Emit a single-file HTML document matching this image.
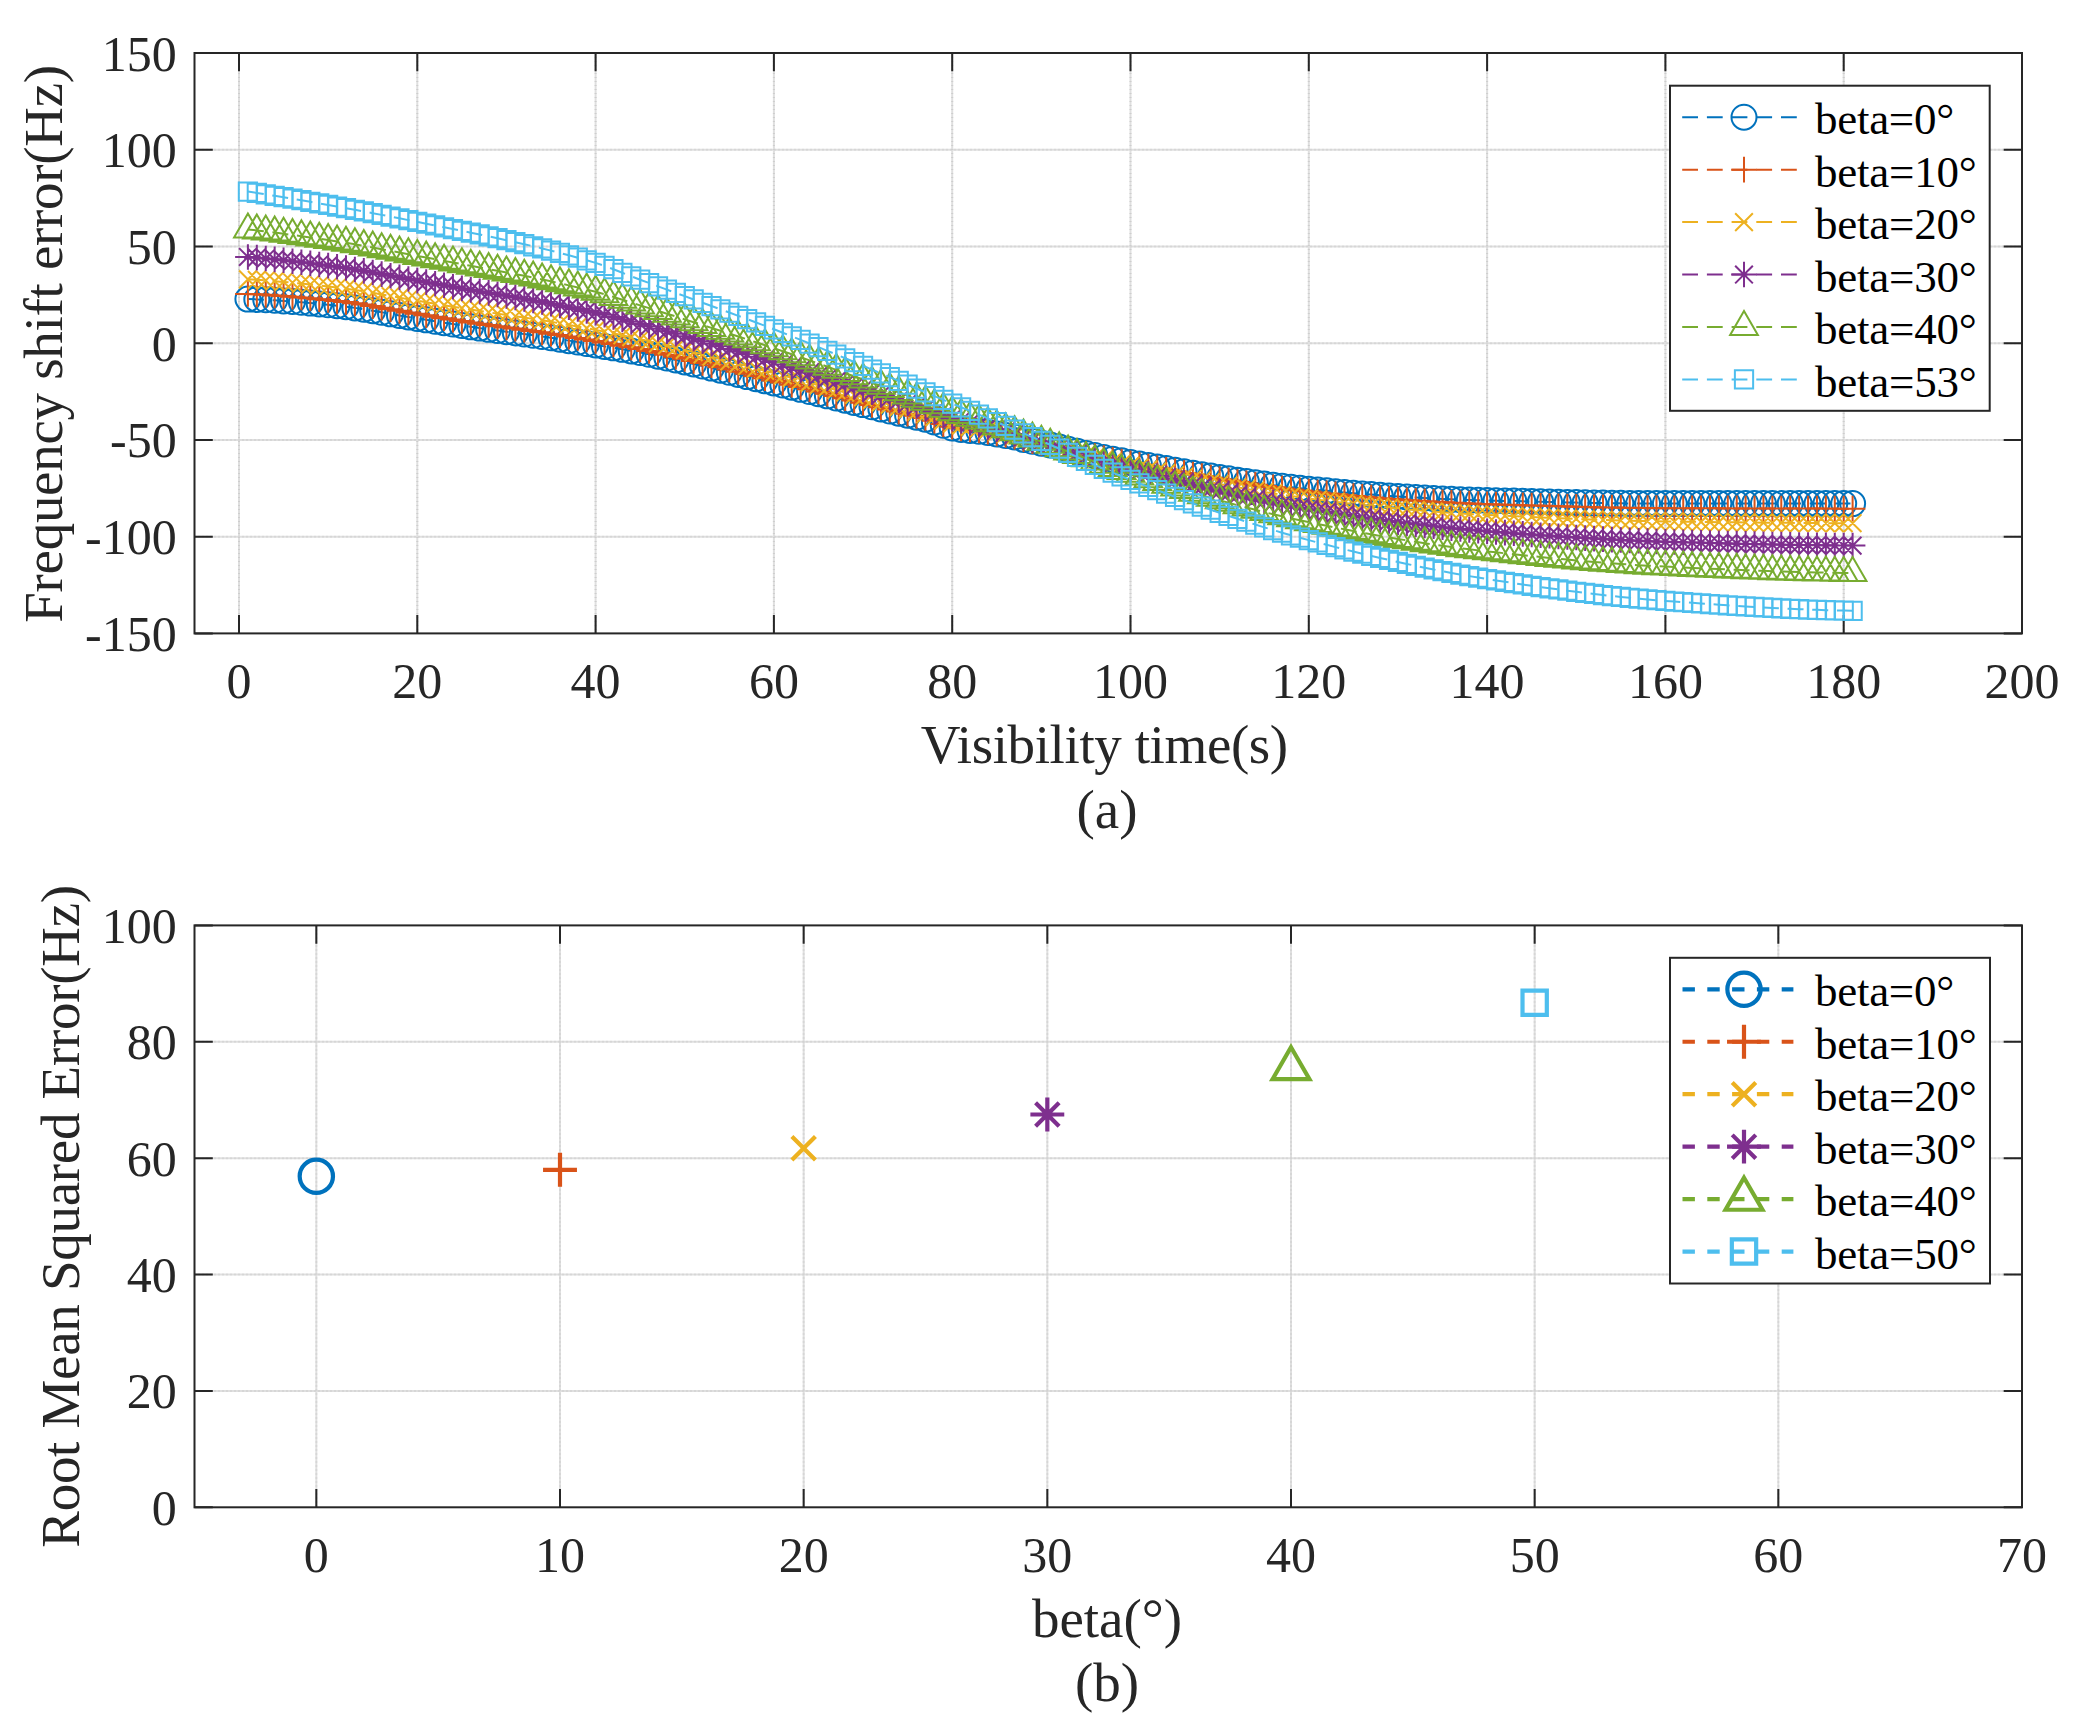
<!DOCTYPE html>
<html lang="en"><head><meta charset="utf-8"><title>Frequency shift error</title>
<style>html,body{margin:0;padding:0;background:#fff}svg{display:block}text{font-family:"Liberation Serif", serif}</style></head><body>
<svg width="2092" height="1730" viewBox="0 0 2092 1730">
<rect width="2092" height="1730" fill="#fff"/>
<path d="M239 53V633.4M417.3 53V633.4M595.6 53V633.4M773.9 53V633.4M952.2 53V633.4M1130.5 53V633.4M1308.8 53V633.4M1487.1 53V633.4M1665.4 53V633.4M1843.7 53V633.4M194.5 536.67H2022M194.5 439.93H2022M194.5 343.2H2022M194.5 246.47H2022M194.5 149.73H2022" stroke="#dfdfdf" stroke-width="2" fill="none"/>
<path d="M239 53V633.4M417.3 53V633.4M595.6 53V633.4M773.9 53V633.4M952.2 53V633.4M1130.5 53V633.4M1308.8 53V633.4M1487.1 53V633.4M1665.4 53V633.4M1843.7 53V633.4M194.5 536.67H2022M194.5 439.93H2022M194.5 343.2H2022M194.5 246.47H2022M194.5 149.73H2022" stroke="#cecece" stroke-width="2" stroke-dasharray="1 3" fill="none"/>
<path d="M239 633.4v-18.3M239 53v18.3M417.3 633.4v-18.3M417.3 53v18.3M595.6 633.4v-18.3M595.6 53v18.3M773.9 633.4v-18.3M773.9 53v18.3M952.2 633.4v-18.3M952.2 53v18.3M1130.5 633.4v-18.3M1130.5 53v18.3M1308.8 633.4v-18.3M1308.8 53v18.3M1487.1 633.4v-18.3M1487.1 53v18.3M1665.4 633.4v-18.3M1665.4 53v18.3M1843.7 633.4v-18.3M1843.7 53v18.3M2022 633.4v-18.3M2022 53v18.3M194.5 633.4h18.3M2022 633.4h-18.3M194.5 536.67h18.3M2022 536.67h-18.3M194.5 439.93h18.3M2022 439.93h-18.3M194.5 343.2h18.3M2022 343.2h-18.3M194.5 246.47h18.3M2022 246.47h-18.3M194.5 149.73h18.3M2022 149.73h-18.3M194.5 53h18.3M2022 53h-18.3" stroke="#262626" stroke-width="2" fill="none"/>
<rect x="194.5" y="53" width="1827.5" height="580.4" stroke="#262626" stroke-width="2" fill="none"/>
<polyline points="247.91,299.09 256.83,299.4 265.75,299.81 274.66,300.32 283.57,300.91 292.49,301.57 301.4,302.3 310.32,303.08 319.24,303.91 328.15,304.77 337.06,305.67 345.98,306.68 354.89,307.88 363.81,309.24 372.73,310.71 381.64,312.26 390.55,313.84 399.47,315.42 408.38,316.97 417.3,318.44 426.21,319.85 435.13,321.26 444.04,322.67 452.96,324.07 461.88,325.47 470.79,326.84 479.7,328.12 488.62,329.36 497.53,330.55 506.45,331.73 515.37,332.89 524.28,334.07 533.19,335.27 542.11,336.52 551.02,337.82 559.94,339.2 568.86,340.63 577.77,342.06 586.68,343.5 595.6,344.94 604.51,346.38 613.43,347.84 622.35,349.33 631.26,350.9 640.17,352.56 649.09,354.31 658,356.13 666.92,358.01 675.84,359.95 684.75,361.93 693.66,363.96 702.58,366.02 711.49,368.1 720.41,370.2 729.32,372.32 738.24,374.44 747.15,376.58 756.07,378.72 764.98,380.85 773.9,382.96 782.81,385.07 791.73,387.21 800.64,389.37 809.56,391.54 818.47,393.7 827.39,395.87 836.3,398.04 845.22,400.22 854.13,402.4 863.05,404.58 871.96,406.75 880.88,408.9 889.79,411.03 898.71,413.13 907.62,415.19 916.54,417.22 925.45,419.21 934.37,421.95 943.28,425.32 952.2,427.94 961.11,429.4 970.03,430.42 978.94,431.31 987.86,432.41 996.77,433.89 1005.69,435.42 1014.6,436.96 1023.52,439.39 1032.43,441.3 1041.35,443.13 1050.26,445.04 1059.18,447.07 1068.09,449.18 1077.01,451.33 1085.92,453.46 1094.84,455.54 1103.75,457.51 1112.67,459.25 1121.59,460.84 1130.5,462.38 1139.41,463.93 1148.33,465.49 1157.24,467.04 1166.16,468.59 1175.07,470.13 1183.99,471.65 1192.9,473.15 1201.82,474.63 1210.73,476.07 1219.65,477.49 1228.57,478.87 1237.48,480.21 1246.39,481.52 1255.31,482.77 1264.22,483.98 1273.14,485.14 1282.05,486.23 1290.97,487.27 1299.88,488.24 1308.8,489.13 1317.71,489.99 1326.63,490.84 1335.54,491.67 1344.46,492.46 1353.38,493.22 1362.29,493.94 1371.2,494.62 1380.12,495.27 1389.03,495.88 1397.95,496.46 1406.86,497.01 1415.78,497.53 1424.69,498.03 1433.61,498.49 1442.52,498.94 1451.44,499.34 1460.35,499.7 1469.27,500.01 1478.18,500.28 1487.1,500.5 1496.01,500.69 1504.93,500.89 1513.84,501.1 1522.76,501.32 1531.67,501.55 1540.59,501.78 1549.5,502 1558.42,502.21 1567.33,502.41 1576.25,502.6 1585.16,502.77 1594.08,502.93 1602.99,503.07 1611.91,503.2 1620.82,503.32 1629.74,503.41 1638.65,503.48 1647.57,503.54 1656.48,503.57 1665.4,503.58 1674.31,503.58 1683.23,503.58 1692.14,503.58 1701.06,503.58 1709.97,503.58 1718.89,503.58 1727.8,503.58 1736.72,503.58 1745.63,503.58 1754.55,503.58 1763.46,503.58 1772.38,503.58 1781.29,503.58 1790.21,503.58 1799.12,503.58 1808.04,503.58 1816.95,503.58 1825.87,503.58 1834.78,503.58 1843.7,503.58 1852.61,503.58" fill="none" stroke="#0072BD" stroke-width="2" stroke-dasharray="16 8.7"/>
<path d="M235.41 299.09a12.5 12.5 0 1 0 25 0a12.5 12.5 0 1 0 -25 0M244.33 299.4a12.5 12.5 0 1 0 25 0a12.5 12.5 0 1 0 -25 0M253.25 299.81a12.5 12.5 0 1 0 25 0a12.5 12.5 0 1 0 -25 0M262.16 300.32a12.5 12.5 0 1 0 25 0a12.5 12.5 0 1 0 -25 0M271.07 300.91a12.5 12.5 0 1 0 25 0a12.5 12.5 0 1 0 -25 0M279.99 301.57a12.5 12.5 0 1 0 25 0a12.5 12.5 0 1 0 -25 0M288.9 302.3a12.5 12.5 0 1 0 25 0a12.5 12.5 0 1 0 -25 0M297.82 303.08a12.5 12.5 0 1 0 25 0a12.5 12.5 0 1 0 -25 0M306.74 303.91a12.5 12.5 0 1 0 25 0a12.5 12.5 0 1 0 -25 0M315.65 304.77a12.5 12.5 0 1 0 25 0a12.5 12.5 0 1 0 -25 0M324.56 305.67a12.5 12.5 0 1 0 25 0a12.5 12.5 0 1 0 -25 0M333.48 306.68a12.5 12.5 0 1 0 25 0a12.5 12.5 0 1 0 -25 0M342.39 307.88a12.5 12.5 0 1 0 25 0a12.5 12.5 0 1 0 -25 0M351.31 309.24a12.5 12.5 0 1 0 25 0a12.5 12.5 0 1 0 -25 0M360.23 310.71a12.5 12.5 0 1 0 25 0a12.5 12.5 0 1 0 -25 0M369.14 312.26a12.5 12.5 0 1 0 25 0a12.5 12.5 0 1 0 -25 0M378.05 313.84a12.5 12.5 0 1 0 25 0a12.5 12.5 0 1 0 -25 0M386.97 315.42a12.5 12.5 0 1 0 25 0a12.5 12.5 0 1 0 -25 0M395.88 316.97a12.5 12.5 0 1 0 25 0a12.5 12.5 0 1 0 -25 0M404.8 318.44a12.5 12.5 0 1 0 25 0a12.5 12.5 0 1 0 -25 0M413.71 319.85a12.5 12.5 0 1 0 25 0a12.5 12.5 0 1 0 -25 0M422.63 321.26a12.5 12.5 0 1 0 25 0a12.5 12.5 0 1 0 -25 0M431.54 322.67a12.5 12.5 0 1 0 25 0a12.5 12.5 0 1 0 -25 0M440.46 324.07a12.5 12.5 0 1 0 25 0a12.5 12.5 0 1 0 -25 0M449.38 325.47a12.5 12.5 0 1 0 25 0a12.5 12.5 0 1 0 -25 0M458.29 326.84a12.5 12.5 0 1 0 25 0a12.5 12.5 0 1 0 -25 0M467.2 328.12a12.5 12.5 0 1 0 25 0a12.5 12.5 0 1 0 -25 0M476.12 329.36a12.5 12.5 0 1 0 25 0a12.5 12.5 0 1 0 -25 0M485.03 330.55a12.5 12.5 0 1 0 25 0a12.5 12.5 0 1 0 -25 0M493.95 331.73a12.5 12.5 0 1 0 25 0a12.5 12.5 0 1 0 -25 0M502.87 332.89a12.5 12.5 0 1 0 25 0a12.5 12.5 0 1 0 -25 0M511.78 334.07a12.5 12.5 0 1 0 25 0a12.5 12.5 0 1 0 -25 0M520.69 335.27a12.5 12.5 0 1 0 25 0a12.5 12.5 0 1 0 -25 0M529.61 336.52a12.5 12.5 0 1 0 25 0a12.5 12.5 0 1 0 -25 0M538.52 337.82a12.5 12.5 0 1 0 25 0a12.5 12.5 0 1 0 -25 0M547.44 339.2a12.5 12.5 0 1 0 25 0a12.5 12.5 0 1 0 -25 0M556.36 340.63a12.5 12.5 0 1 0 25 0a12.5 12.5 0 1 0 -25 0M565.27 342.06a12.5 12.5 0 1 0 25 0a12.5 12.5 0 1 0 -25 0M574.18 343.5a12.5 12.5 0 1 0 25 0a12.5 12.5 0 1 0 -25 0M583.1 344.94a12.5 12.5 0 1 0 25 0a12.5 12.5 0 1 0 -25 0M592.01 346.38a12.5 12.5 0 1 0 25 0a12.5 12.5 0 1 0 -25 0M600.93 347.84a12.5 12.5 0 1 0 25 0a12.5 12.5 0 1 0 -25 0M609.85 349.33a12.5 12.5 0 1 0 25 0a12.5 12.5 0 1 0 -25 0M618.76 350.9a12.5 12.5 0 1 0 25 0a12.5 12.5 0 1 0 -25 0M627.67 352.56a12.5 12.5 0 1 0 25 0a12.5 12.5 0 1 0 -25 0M636.59 354.31a12.5 12.5 0 1 0 25 0a12.5 12.5 0 1 0 -25 0M645.5 356.13a12.5 12.5 0 1 0 25 0a12.5 12.5 0 1 0 -25 0M654.42 358.01a12.5 12.5 0 1 0 25 0a12.5 12.5 0 1 0 -25 0M663.34 359.95a12.5 12.5 0 1 0 25 0a12.5 12.5 0 1 0 -25 0M672.25 361.93a12.5 12.5 0 1 0 25 0a12.5 12.5 0 1 0 -25 0M681.16 363.96a12.5 12.5 0 1 0 25 0a12.5 12.5 0 1 0 -25 0M690.08 366.02a12.5 12.5 0 1 0 25 0a12.5 12.5 0 1 0 -25 0M698.99 368.1a12.5 12.5 0 1 0 25 0a12.5 12.5 0 1 0 -25 0M707.91 370.2a12.5 12.5 0 1 0 25 0a12.5 12.5 0 1 0 -25 0M716.82 372.32a12.5 12.5 0 1 0 25 0a12.5 12.5 0 1 0 -25 0M725.74 374.44a12.5 12.5 0 1 0 25 0a12.5 12.5 0 1 0 -25 0M734.65 376.58a12.5 12.5 0 1 0 25 0a12.5 12.5 0 1 0 -25 0M743.57 378.72a12.5 12.5 0 1 0 25 0a12.5 12.5 0 1 0 -25 0M752.48 380.85a12.5 12.5 0 1 0 25 0a12.5 12.5 0 1 0 -25 0M761.4 382.96a12.5 12.5 0 1 0 25 0a12.5 12.5 0 1 0 -25 0M770.31 385.07a12.5 12.5 0 1 0 25 0a12.5 12.5 0 1 0 -25 0M779.23 387.21a12.5 12.5 0 1 0 25 0a12.5 12.5 0 1 0 -25 0M788.14 389.37a12.5 12.5 0 1 0 25 0a12.5 12.5 0 1 0 -25 0M797.06 391.54a12.5 12.5 0 1 0 25 0a12.5 12.5 0 1 0 -25 0M805.97 393.7a12.5 12.5 0 1 0 25 0a12.5 12.5 0 1 0 -25 0M814.89 395.87a12.5 12.5 0 1 0 25 0a12.5 12.5 0 1 0 -25 0M823.8 398.04a12.5 12.5 0 1 0 25 0a12.5 12.5 0 1 0 -25 0M832.72 400.22a12.5 12.5 0 1 0 25 0a12.5 12.5 0 1 0 -25 0M841.63 402.4a12.5 12.5 0 1 0 25 0a12.5 12.5 0 1 0 -25 0M850.55 404.58a12.5 12.5 0 1 0 25 0a12.5 12.5 0 1 0 -25 0M859.46 406.75a12.5 12.5 0 1 0 25 0a12.5 12.5 0 1 0 -25 0M868.38 408.9a12.5 12.5 0 1 0 25 0a12.5 12.5 0 1 0 -25 0M877.29 411.03a12.5 12.5 0 1 0 25 0a12.5 12.5 0 1 0 -25 0M886.21 413.13a12.5 12.5 0 1 0 25 0a12.5 12.5 0 1 0 -25 0M895.12 415.19a12.5 12.5 0 1 0 25 0a12.5 12.5 0 1 0 -25 0M904.04 417.22a12.5 12.5 0 1 0 25 0a12.5 12.5 0 1 0 -25 0M912.95 419.21a12.5 12.5 0 1 0 25 0a12.5 12.5 0 1 0 -25 0M921.87 421.95a12.5 12.5 0 1 0 25 0a12.5 12.5 0 1 0 -25 0M930.78 425.32a12.5 12.5 0 1 0 25 0a12.5 12.5 0 1 0 -25 0M939.7 427.94a12.5 12.5 0 1 0 25 0a12.5 12.5 0 1 0 -25 0M948.61 429.4a12.5 12.5 0 1 0 25 0a12.5 12.5 0 1 0 -25 0M957.53 430.42a12.5 12.5 0 1 0 25 0a12.5 12.5 0 1 0 -25 0M966.44 431.31a12.5 12.5 0 1 0 25 0a12.5 12.5 0 1 0 -25 0M975.36 432.41a12.5 12.5 0 1 0 25 0a12.5 12.5 0 1 0 -25 0M984.27 433.89a12.5 12.5 0 1 0 25 0a12.5 12.5 0 1 0 -25 0M993.19 435.42a12.5 12.5 0 1 0 25 0a12.5 12.5 0 1 0 -25 0M1002.1 436.96a12.5 12.5 0 1 0 25 0a12.5 12.5 0 1 0 -25 0M1011.02 439.39a12.5 12.5 0 1 0 25 0a12.5 12.5 0 1 0 -25 0M1019.93 441.3a12.5 12.5 0 1 0 25 0a12.5 12.5 0 1 0 -25 0M1028.85 443.13a12.5 12.5 0 1 0 25 0a12.5 12.5 0 1 0 -25 0M1037.76 445.04a12.5 12.5 0 1 0 25 0a12.5 12.5 0 1 0 -25 0M1046.68 447.07a12.5 12.5 0 1 0 25 0a12.5 12.5 0 1 0 -25 0M1055.59 449.18a12.5 12.5 0 1 0 25 0a12.5 12.5 0 1 0 -25 0M1064.51 451.33a12.5 12.5 0 1 0 25 0a12.5 12.5 0 1 0 -25 0M1073.42 453.46a12.5 12.5 0 1 0 25 0a12.5 12.5 0 1 0 -25 0M1082.34 455.54a12.5 12.5 0 1 0 25 0a12.5 12.5 0 1 0 -25 0M1091.25 457.51a12.5 12.5 0 1 0 25 0a12.5 12.5 0 1 0 -25 0M1100.17 459.25a12.5 12.5 0 1 0 25 0a12.5 12.5 0 1 0 -25 0M1109.09 460.84a12.5 12.5 0 1 0 25 0a12.5 12.5 0 1 0 -25 0M1118 462.38a12.5 12.5 0 1 0 25 0a12.5 12.5 0 1 0 -25 0M1126.91 463.93a12.5 12.5 0 1 0 25 0a12.5 12.5 0 1 0 -25 0M1135.83 465.49a12.5 12.5 0 1 0 25 0a12.5 12.5 0 1 0 -25 0M1144.74 467.04a12.5 12.5 0 1 0 25 0a12.5 12.5 0 1 0 -25 0M1153.66 468.59a12.5 12.5 0 1 0 25 0a12.5 12.5 0 1 0 -25 0M1162.57 470.13a12.5 12.5 0 1 0 25 0a12.5 12.5 0 1 0 -25 0M1171.49 471.65a12.5 12.5 0 1 0 25 0a12.5 12.5 0 1 0 -25 0M1180.4 473.15a12.5 12.5 0 1 0 25 0a12.5 12.5 0 1 0 -25 0M1189.32 474.63a12.5 12.5 0 1 0 25 0a12.5 12.5 0 1 0 -25 0M1198.23 476.07a12.5 12.5 0 1 0 25 0a12.5 12.5 0 1 0 -25 0M1207.15 477.49a12.5 12.5 0 1 0 25 0a12.5 12.5 0 1 0 -25 0M1216.07 478.87a12.5 12.5 0 1 0 25 0a12.5 12.5 0 1 0 -25 0M1224.98 480.21a12.5 12.5 0 1 0 25 0a12.5 12.5 0 1 0 -25 0M1233.89 481.52a12.5 12.5 0 1 0 25 0a12.5 12.5 0 1 0 -25 0M1242.81 482.77a12.5 12.5 0 1 0 25 0a12.5 12.5 0 1 0 -25 0M1251.72 483.98a12.5 12.5 0 1 0 25 0a12.5 12.5 0 1 0 -25 0M1260.64 485.14a12.5 12.5 0 1 0 25 0a12.5 12.5 0 1 0 -25 0M1269.55 486.23a12.5 12.5 0 1 0 25 0a12.5 12.5 0 1 0 -25 0M1278.47 487.27a12.5 12.5 0 1 0 25 0a12.5 12.5 0 1 0 -25 0M1287.38 488.24a12.5 12.5 0 1 0 25 0a12.5 12.5 0 1 0 -25 0M1296.3 489.13a12.5 12.5 0 1 0 25 0a12.5 12.5 0 1 0 -25 0M1305.21 489.99a12.5 12.5 0 1 0 25 0a12.5 12.5 0 1 0 -25 0M1314.13 490.84a12.5 12.5 0 1 0 25 0a12.5 12.5 0 1 0 -25 0M1323.04 491.67a12.5 12.5 0 1 0 25 0a12.5 12.5 0 1 0 -25 0M1331.96 492.46a12.5 12.5 0 1 0 25 0a12.5 12.5 0 1 0 -25 0M1340.88 493.22a12.5 12.5 0 1 0 25 0a12.5 12.5 0 1 0 -25 0M1349.79 493.94a12.5 12.5 0 1 0 25 0a12.5 12.5 0 1 0 -25 0M1358.7 494.62a12.5 12.5 0 1 0 25 0a12.5 12.5 0 1 0 -25 0M1367.62 495.27a12.5 12.5 0 1 0 25 0a12.5 12.5 0 1 0 -25 0M1376.53 495.88a12.5 12.5 0 1 0 25 0a12.5 12.5 0 1 0 -25 0M1385.45 496.46a12.5 12.5 0 1 0 25 0a12.5 12.5 0 1 0 -25 0M1394.36 497.01a12.5 12.5 0 1 0 25 0a12.5 12.5 0 1 0 -25 0M1403.28 497.53a12.5 12.5 0 1 0 25 0a12.5 12.5 0 1 0 -25 0M1412.19 498.03a12.5 12.5 0 1 0 25 0a12.5 12.5 0 1 0 -25 0M1421.11 498.49a12.5 12.5 0 1 0 25 0a12.5 12.5 0 1 0 -25 0M1430.02 498.94a12.5 12.5 0 1 0 25 0a12.5 12.5 0 1 0 -25 0M1438.94 499.34a12.5 12.5 0 1 0 25 0a12.5 12.5 0 1 0 -25 0M1447.85 499.7a12.5 12.5 0 1 0 25 0a12.5 12.5 0 1 0 -25 0M1456.77 500.01a12.5 12.5 0 1 0 25 0a12.5 12.5 0 1 0 -25 0M1465.68 500.28a12.5 12.5 0 1 0 25 0a12.5 12.5 0 1 0 -25 0M1474.6 500.5a12.5 12.5 0 1 0 25 0a12.5 12.5 0 1 0 -25 0M1483.51 500.69a12.5 12.5 0 1 0 25 0a12.5 12.5 0 1 0 -25 0M1492.43 500.89a12.5 12.5 0 1 0 25 0a12.5 12.5 0 1 0 -25 0M1501.34 501.1a12.5 12.5 0 1 0 25 0a12.5 12.5 0 1 0 -25 0M1510.26 501.32a12.5 12.5 0 1 0 25 0a12.5 12.5 0 1 0 -25 0M1519.17 501.55a12.5 12.5 0 1 0 25 0a12.5 12.5 0 1 0 -25 0M1528.09 501.78a12.5 12.5 0 1 0 25 0a12.5 12.5 0 1 0 -25 0M1537 502a12.5 12.5 0 1 0 25 0a12.5 12.5 0 1 0 -25 0M1545.92 502.21a12.5 12.5 0 1 0 25 0a12.5 12.5 0 1 0 -25 0M1554.83 502.41a12.5 12.5 0 1 0 25 0a12.5 12.5 0 1 0 -25 0M1563.75 502.6a12.5 12.5 0 1 0 25 0a12.5 12.5 0 1 0 -25 0M1572.66 502.77a12.5 12.5 0 1 0 25 0a12.5 12.5 0 1 0 -25 0M1581.58 502.93a12.5 12.5 0 1 0 25 0a12.5 12.5 0 1 0 -25 0M1590.49 503.07a12.5 12.5 0 1 0 25 0a12.5 12.5 0 1 0 -25 0M1599.41 503.2a12.5 12.5 0 1 0 25 0a12.5 12.5 0 1 0 -25 0M1608.32 503.32a12.5 12.5 0 1 0 25 0a12.5 12.5 0 1 0 -25 0M1617.24 503.41a12.5 12.5 0 1 0 25 0a12.5 12.5 0 1 0 -25 0M1626.15 503.48a12.5 12.5 0 1 0 25 0a12.5 12.5 0 1 0 -25 0M1635.07 503.54a12.5 12.5 0 1 0 25 0a12.5 12.5 0 1 0 -25 0M1643.98 503.57a12.5 12.5 0 1 0 25 0a12.5 12.5 0 1 0 -25 0M1652.9 503.58a12.5 12.5 0 1 0 25 0a12.5 12.5 0 1 0 -25 0M1661.81 503.58a12.5 12.5 0 1 0 25 0a12.5 12.5 0 1 0 -25 0M1670.73 503.58a12.5 12.5 0 1 0 25 0a12.5 12.5 0 1 0 -25 0M1679.64 503.58a12.5 12.5 0 1 0 25 0a12.5 12.5 0 1 0 -25 0M1688.56 503.58a12.5 12.5 0 1 0 25 0a12.5 12.5 0 1 0 -25 0M1697.47 503.58a12.5 12.5 0 1 0 25 0a12.5 12.5 0 1 0 -25 0M1706.39 503.58a12.5 12.5 0 1 0 25 0a12.5 12.5 0 1 0 -25 0M1715.3 503.58a12.5 12.5 0 1 0 25 0a12.5 12.5 0 1 0 -25 0M1724.22 503.58a12.5 12.5 0 1 0 25 0a12.5 12.5 0 1 0 -25 0M1733.13 503.58a12.5 12.5 0 1 0 25 0a12.5 12.5 0 1 0 -25 0M1742.05 503.58a12.5 12.5 0 1 0 25 0a12.5 12.5 0 1 0 -25 0M1750.96 503.58a12.5 12.5 0 1 0 25 0a12.5 12.5 0 1 0 -25 0M1759.88 503.58a12.5 12.5 0 1 0 25 0a12.5 12.5 0 1 0 -25 0M1768.79 503.58a12.5 12.5 0 1 0 25 0a12.5 12.5 0 1 0 -25 0M1777.71 503.58a12.5 12.5 0 1 0 25 0a12.5 12.5 0 1 0 -25 0M1786.62 503.58a12.5 12.5 0 1 0 25 0a12.5 12.5 0 1 0 -25 0M1795.54 503.58a12.5 12.5 0 1 0 25 0a12.5 12.5 0 1 0 -25 0M1804.45 503.58a12.5 12.5 0 1 0 25 0a12.5 12.5 0 1 0 -25 0M1813.37 503.58a12.5 12.5 0 1 0 25 0a12.5 12.5 0 1 0 -25 0M1822.28 503.58a12.5 12.5 0 1 0 25 0a12.5 12.5 0 1 0 -25 0M1831.2 503.58a12.5 12.5 0 1 0 25 0a12.5 12.5 0 1 0 -25 0M1840.11 503.58a12.5 12.5 0 1 0 25 0a12.5 12.5 0 1 0 -25 0" fill="none" stroke="#0072BD" stroke-width="2" stroke-linejoin="miter"/>
<polyline points="247.91,294 256.83,294.37 265.75,294.83 274.66,295.38 283.57,296.01 292.49,296.71 301.4,297.47 310.32,298.29 319.24,299.15 328.15,300.05 337.06,300.98 345.98,302.02 354.89,303.25 363.81,304.62 372.73,306.1 381.64,307.65 390.55,309.24 399.47,310.83 408.38,312.39 417.3,313.87 426.21,315.3 435.13,316.73 444.04,318.16 452.96,319.58 461.88,321 470.79,322.38 479.7,323.7 488.62,324.96 497.53,326.19 506.45,327.4 515.37,328.6 524.28,329.82 533.19,331.07 542.11,332.35 551.02,333.7 559.94,335.12 568.86,336.59 577.77,338.07 586.68,339.56 595.6,341.06 604.51,342.58 613.43,344.12 622.35,345.71 631.26,347.37 640.17,349.12 649.09,350.94 658,352.83 666.92,354.78 675.84,356.78 684.75,358.83 693.66,360.91 702.58,363.03 711.49,365.17 720.41,367.32 729.32,369.49 738.24,371.67 747.15,373.86 756.07,376.06 764.98,378.25 773.9,380.42 782.81,382.6 791.73,384.81 800.64,387.03 809.56,389.27 818.47,391.5 827.39,393.74 836.3,395.98 845.22,398.24 854.13,400.5 863.05,402.75 871.96,404.99 880.88,407.22 889.79,409.42 898.71,411.61 907.62,413.75 916.54,415.87 925.45,417.94 934.37,420.72 943.28,424.11 952.2,426.79 961.11,428.35 970.03,429.5 978.94,430.53 987.86,431.75 996.77,433.33 1005.69,434.96 1014.6,436.61 1023.52,439.11 1032.43,441.1 1041.35,443.02 1050.26,445.03 1059.18,447.15 1068.09,449.35 1077.01,451.59 1085.92,453.81 1094.84,455.99 1103.75,458.05 1112.67,459.89 1121.59,461.57 1130.5,463.21 1139.41,464.85 1148.33,466.5 1157.24,468.14 1166.16,469.77 1175.07,471.39 1183.99,472.99 1192.9,474.58 1201.82,476.14 1210.73,477.66 1219.65,479.16 1228.57,480.62 1237.48,482.04 1246.39,483.42 1255.31,484.75 1264.22,486.03 1273.14,487.26 1282.05,488.43 1290.97,489.53 1299.88,490.58 1308.8,491.55 1317.71,492.47 1326.63,493.39 1335.54,494.29 1344.46,495.15 1353.38,495.98 1362.29,496.77 1371.2,497.52 1380.12,498.23 1389.03,498.91 1397.95,499.56 1406.86,500.18 1415.78,500.76 1424.69,501.32 1433.61,501.85 1442.52,502.35 1451.44,502.82 1460.35,503.24 1469.27,503.61 1478.18,503.93 1487.1,504.21 1496.01,504.46 1504.93,504.72 1513.84,504.98 1522.76,505.25 1531.67,505.53 1540.59,505.81 1549.5,506.08 1558.42,506.33 1567.33,506.58 1576.25,506.81 1585.16,507.03 1594.08,507.23 1602.99,507.42 1611.91,507.59 1620.82,507.74 1629.74,507.87 1638.65,507.98 1647.57,508.07 1656.48,508.14 1665.4,508.18 1674.31,508.22 1683.23,508.25 1692.14,508.28 1701.06,508.31 1709.97,508.34 1718.89,508.36 1727.8,508.39 1736.72,508.42 1745.63,508.44 1754.55,508.47 1763.46,508.49 1772.38,508.52 1781.29,508.54 1790.21,508.56 1799.12,508.57 1808.04,508.59 1816.95,508.61 1825.87,508.62 1834.78,508.63 1843.7,508.64 1852.61,508.65" fill="none" stroke="#D95319" stroke-width="2" stroke-dasharray="16 8.7"/>
<path d="M235.11 294h25.6M247.91 281.2v25.6M244.03 294.37h25.6M256.83 281.57v25.6M252.94 294.83h25.6M265.75 282.03v25.6M261.86 295.38h25.6M274.66 282.58v25.6M270.77 296.01h25.6M283.57 283.21v25.6M279.69 296.71h25.6M292.49 283.91v25.6M288.6 297.47h25.6M301.4 284.67v25.6M297.52 298.29h25.6M310.32 285.49v25.6M306.44 299.15h25.6M319.24 286.35v25.6M315.35 300.05h25.6M328.15 287.25v25.6M324.26 300.98h25.6M337.06 288.18v25.6M333.18 302.02h25.6M345.98 289.22v25.6M342.09 303.25h25.6M354.89 290.45v25.6M351.01 304.62h25.6M363.81 291.82v25.6M359.93 306.1h25.6M372.73 293.3v25.6M368.84 307.65h25.6M381.64 294.85v25.6M377.75 309.24h25.6M390.55 296.44v25.6M386.67 310.83h25.6M399.47 298.03v25.6M395.58 312.39h25.6M408.38 299.59v25.6M404.5 313.87h25.6M417.3 301.07v25.6M413.41 315.3h25.6M426.21 302.5v25.6M422.33 316.73h25.6M435.13 303.93v25.6M431.24 318.16h25.6M444.04 305.36v25.6M440.16 319.58h25.6M452.96 306.78v25.6M449.07 321h25.6M461.88 308.2v25.6M457.99 322.38h25.6M470.79 309.58v25.6M466.9 323.7h25.6M479.7 310.9v25.6M475.82 324.96h25.6M488.62 312.16v25.6M484.73 326.19h25.6M497.53 313.39v25.6M493.65 327.4h25.6M506.45 314.6v25.6M502.56 328.6h25.6M515.37 315.8v25.6M511.48 329.82h25.6M524.28 317.02v25.6M520.39 331.07h25.6M533.19 318.27v25.6M529.31 332.35h25.6M542.11 319.55v25.6M538.23 333.7h25.6M551.02 320.9v25.6M547.14 335.12h25.6M559.94 322.32v25.6M556.06 336.59h25.6M568.86 323.79v25.6M564.97 338.07h25.6M577.77 325.27v25.6M573.88 339.56h25.6M586.68 326.76v25.6M582.8 341.06h25.6M595.6 328.26v25.6M591.72 342.58h25.6M604.51 329.78v25.6M600.63 344.12h25.6M613.43 331.32v25.6M609.55 345.71h25.6M622.35 332.91v25.6M618.46 347.37h25.6M631.26 334.57v25.6M627.38 349.12h25.6M640.17 336.32v25.6M636.29 350.94h25.6M649.09 338.14v25.6M645.2 352.83h25.6M658 340.03v25.6M654.12 354.78h25.6M666.92 341.98v25.6M663.04 356.78h25.6M675.84 343.98v25.6M671.95 358.83h25.6M684.75 346.03v25.6M680.87 360.91h25.6M693.66 348.11v25.6M689.78 363.03h25.6M702.58 350.23v25.6M698.69 365.17h25.6M711.49 352.37v25.6M707.61 367.32h25.6M720.41 354.52v25.6M716.52 369.49h25.6M729.32 356.69v25.6M725.44 371.67h25.6M738.24 358.87v25.6M734.36 373.86h25.6M747.15 361.06v25.6M743.27 376.06h25.6M756.07 363.26v25.6M752.18 378.25h25.6M764.98 365.45v25.6M761.1 380.42h25.6M773.9 367.62v25.6M770.01 382.6h25.6M782.81 369.8v25.6M778.93 384.81h25.6M791.73 372.01v25.6M787.85 387.03h25.6M800.64 374.23v25.6M796.76 389.27h25.6M809.56 376.47v25.6M805.67 391.5h25.6M818.47 378.7v25.6M814.59 393.74h25.6M827.39 380.94v25.6M823.5 395.98h25.6M836.3 383.18v25.6M832.42 398.24h25.6M845.22 385.44v25.6M841.34 400.5h25.6M854.13 387.7v25.6M850.25 402.75h25.6M863.05 389.95v25.6M859.16 404.99h25.6M871.96 392.19v25.6M868.08 407.22h25.6M880.88 394.42v25.6M877 409.42h25.6M889.79 396.62v25.6M885.91 411.61h25.6M898.71 398.81v25.6M894.82 413.75h25.6M907.62 400.95v25.6M903.74 415.87h25.6M916.54 403.07v25.6M912.65 417.94h25.6M925.45 405.14v25.6M921.57 420.72h25.6M934.37 407.92v25.6M930.49 424.11h25.6M943.28 411.31v25.6M939.4 426.79h25.6M952.2 413.99v25.6M948.31 428.35h25.6M961.11 415.55v25.6M957.23 429.5h25.6M970.03 416.7v25.6M966.14 430.53h25.6M978.94 417.73v25.6M975.06 431.75h25.6M987.86 418.95v25.6M983.98 433.33h25.6M996.77 420.53v25.6M992.89 434.96h25.6M1005.69 422.16v25.6M1001.8 436.61h25.6M1014.6 423.81v25.6M1010.72 439.11h25.6M1023.52 426.31v25.6M1019.63 441.1h25.6M1032.43 428.3v25.6M1028.55 443.02h25.6M1041.35 430.22v25.6M1037.46 445.03h25.6M1050.26 432.23v25.6M1046.38 447.15h25.6M1059.18 434.35v25.6M1055.29 449.35h25.6M1068.09 436.55v25.6M1064.21 451.59h25.6M1077.01 438.79v25.6M1073.12 453.81h25.6M1085.92 441.01v25.6M1082.04 455.99h25.6M1094.84 443.19v25.6M1090.95 458.05h25.6M1103.75 445.25v25.6M1099.87 459.89h25.6M1112.67 447.09v25.6M1108.79 461.57h25.6M1121.59 448.77v25.6M1117.7 463.21h25.6M1130.5 450.41v25.6M1126.62 464.85h25.6M1139.41 452.05v25.6M1135.53 466.5h25.6M1148.33 453.7v25.6M1144.44 468.14h25.6M1157.24 455.34v25.6M1153.36 469.77h25.6M1166.16 456.97v25.6M1162.27 471.39h25.6M1175.07 458.59v25.6M1171.19 472.99h25.6M1183.99 460.19v25.6M1180.1 474.58h25.6M1192.9 461.78v25.6M1189.02 476.14h25.6M1201.82 463.34v25.6M1197.93 477.66h25.6M1210.73 464.86v25.6M1206.85 479.16h25.6M1219.65 466.36v25.6M1215.77 480.62h25.6M1228.57 467.82v25.6M1224.68 482.04h25.6M1237.48 469.24v25.6M1233.6 483.42h25.6M1246.39 470.62v25.6M1242.51 484.75h25.6M1255.31 471.95v25.6M1251.42 486.03h25.6M1264.22 473.23v25.6M1260.34 487.26h25.6M1273.14 474.46v25.6M1269.25 488.43h25.6M1282.05 475.63v25.6M1278.17 489.53h25.6M1290.97 476.73v25.6M1287.09 490.58h25.6M1299.88 477.78v25.6M1296 491.55h25.6M1308.8 478.75v25.6M1304.91 492.47h25.6M1317.71 479.67v25.6M1313.83 493.39h25.6M1326.63 480.59v25.6M1322.74 494.29h25.6M1335.54 481.49v25.6M1331.66 495.15h25.6M1344.46 482.35v25.6M1340.58 495.98h25.6M1353.38 483.18v25.6M1349.49 496.77h25.6M1362.29 483.97v25.6M1358.4 497.52h25.6M1371.2 484.72v25.6M1367.32 498.23h25.6M1380.12 485.43v25.6M1376.23 498.91h25.6M1389.03 486.11v25.6M1385.15 499.56h25.6M1397.95 486.76v25.6M1394.06 500.18h25.6M1406.86 487.38v25.6M1402.98 500.76h25.6M1415.78 487.96v25.6M1411.89 501.32h25.6M1424.69 488.52v25.6M1420.81 501.85h25.6M1433.61 489.05v25.6M1429.72 502.35h25.6M1442.52 489.55v25.6M1438.64 502.82h25.6M1451.44 490.02v25.6M1447.55 503.24h25.6M1460.35 490.44v25.6M1456.47 503.61h25.6M1469.27 490.81v25.6M1465.38 503.93h25.6M1478.18 491.13v25.6M1474.3 504.21h25.6M1487.1 491.41v25.6M1483.21 504.46h25.6M1496.01 491.66v25.6M1492.13 504.72h25.6M1504.93 491.92v25.6M1501.04 504.98h25.6M1513.84 492.18v25.6M1509.96 505.25h25.6M1522.76 492.45v25.6M1518.88 505.53h25.6M1531.67 492.73v25.6M1527.79 505.81h25.6M1540.59 493.01v25.6M1536.7 506.08h25.6M1549.5 493.28v25.6M1545.62 506.33h25.6M1558.42 493.53v25.6M1554.53 506.58h25.6M1567.33 493.78v25.6M1563.45 506.81h25.6M1576.25 494.01v25.6M1572.37 507.03h25.6M1585.16 494.23v25.6M1581.28 507.23h25.6M1594.08 494.43v25.6M1590.19 507.42h25.6M1602.99 494.62v25.6M1599.11 507.59h25.6M1611.91 494.79v25.6M1608.02 507.74h25.6M1620.82 494.94v25.6M1616.94 507.87h25.6M1629.74 495.07v25.6M1625.86 507.98h25.6M1638.65 495.18v25.6M1634.77 508.07h25.6M1647.57 495.27v25.6M1643.68 508.14h25.6M1656.48 495.34v25.6M1652.6 508.18h25.6M1665.4 495.38v25.6M1661.51 508.22h25.6M1674.31 495.42v25.6M1670.43 508.25h25.6M1683.23 495.45v25.6M1679.34 508.28h25.6M1692.14 495.48v25.6M1688.26 508.31h25.6M1701.06 495.51v25.6M1697.17 508.34h25.6M1709.97 495.54v25.6M1706.09 508.36h25.6M1718.89 495.56v25.6M1715 508.39h25.6M1727.8 495.59v25.6M1723.92 508.42h25.6M1736.72 495.62v25.6M1732.83 508.44h25.6M1745.63 495.64v25.6M1741.75 508.47h25.6M1754.55 495.67v25.6M1750.66 508.49h25.6M1763.46 495.69v25.6M1759.58 508.52h25.6M1772.38 495.72v25.6M1768.49 508.54h25.6M1781.29 495.74v25.6M1777.41 508.56h25.6M1790.21 495.76v25.6M1786.32 508.57h25.6M1799.12 495.77v25.6M1795.24 508.59h25.6M1808.04 495.79v25.6M1804.15 508.61h25.6M1816.95 495.81v25.6M1813.07 508.62h25.6M1825.87 495.82v25.6M1821.98 508.63h25.6M1834.78 495.83v25.6M1830.9 508.64h25.6M1843.7 495.84v25.6M1839.81 508.65h25.6M1852.61 495.85v25.6" fill="none" stroke="#D95319" stroke-width="2" stroke-linejoin="miter"/>
<polyline points="247.91,279.36 256.83,279.87 265.75,280.47 274.66,281.14 283.57,281.89 292.49,282.71 301.4,283.58 310.32,284.5 319.24,285.46 328.15,286.46 337.06,287.48 345.98,288.61 354.89,289.89 363.81,291.31 372.73,292.82 381.64,294.4 390.55,296.01 399.47,297.62 408.38,299.2 417.3,300.73 426.21,302.21 435.13,303.69 444.04,305.17 452.96,306.64 461.88,308.12 470.79,309.56 479.7,310.95 488.62,312.3 497.53,313.62 506.45,314.94 515.37,316.25 524.28,317.59 533.19,318.95 542.11,320.36 551.02,321.83 559.94,323.38 568.86,324.98 577.77,326.59 586.68,328.23 595.6,329.9 604.51,331.62 613.43,333.42 622.35,335.29 631.26,337.22 640.17,339.2 649.09,341.24 658,343.33 666.92,345.47 675.84,347.65 684.75,349.88 693.66,352.13 702.58,354.42 711.49,356.72 720.41,359.03 729.32,361.35 738.24,363.69 747.15,366.04 756.07,368.4 764.98,370.76 773.9,373.11 782.81,375.48 791.73,377.88 800.64,380.3 809.56,382.73 818.47,385.17 827.39,387.61 836.3,390.06 845.22,392.53 854.13,395 863.05,397.47 871.96,399.93 880.88,402.38 889.79,404.81 898.71,407.22 907.62,409.61 916.54,411.96 925.45,414.27 934.37,417.2 943.28,420.64 952.2,423.47 961.11,425.34 970.03,426.85 978.94,428.27 987.86,429.84 996.77,431.73 1005.69,433.66 1014.6,435.6 1023.52,438.28 1032.43,440.53 1041.35,442.72 1050.26,444.99 1059.18,447.38 1068.09,449.84 1077.01,452.34 1085.92,454.83 1094.84,457.26 1103.75,459.6 1112.67,461.72 1121.59,463.7 1130.5,465.6 1139.41,467.5 1148.33,469.4 1157.24,471.29 1166.16,473.17 1175.07,475.03 1183.99,476.87 1192.9,478.69 1201.82,480.48 1210.73,482.24 1219.65,483.96 1228.57,485.65 1237.48,487.29 1246.39,488.89 1255.31,490.44 1264.22,491.93 1273.14,493.37 1282.05,494.75 1290.97,496.07 1299.88,497.32 1308.8,498.49 1317.71,499.62 1326.63,500.74 1335.54,501.83 1344.46,502.9 1353.38,503.92 1362.29,504.91 1371.2,505.86 1380.12,506.77 1389.03,507.64 1397.95,508.48 1406.86,509.29 1415.78,510.06 1424.69,510.8 1433.61,511.52 1442.52,512.2 1451.44,512.84 1460.35,513.43 1469.27,513.97 1478.18,514.46 1487.1,514.9 1496.01,515.31 1504.93,515.73 1513.84,516.15 1522.76,516.57 1531.67,516.99 1540.59,517.41 1549.5,517.82 1558.42,518.22 1567.33,518.6 1576.25,518.96 1585.16,519.3 1594.08,519.63 1602.99,519.94 1611.91,520.22 1620.82,520.49 1629.74,520.73 1638.65,520.94 1647.57,521.13 1656.48,521.3 1665.4,521.43 1674.31,521.55 1683.23,521.67 1692.14,521.79 1701.06,521.9 1709.97,522.02 1718.89,522.13 1727.8,522.23 1736.72,522.34 1745.63,522.44 1754.55,522.53 1763.46,522.63 1772.38,522.71 1781.29,522.8 1790.21,522.87 1799.12,522.95 1808.04,523.01 1816.95,523.07 1825.87,523.12 1834.78,523.17 1843.7,523.21 1852.61,523.24" fill="none" stroke="#EDB120" stroke-width="2" stroke-dasharray="16 8.7"/>
<path d="M239.08 270.52l17.68 17.68M239.08 288.2l17.68 -17.68M247.99 271.03l17.68 17.68M247.99 288.71l17.68 -17.68M256.91 271.63l17.68 17.68M256.91 289.31l17.68 -17.68M265.82 272.31l17.68 17.68M265.82 289.98l17.68 -17.68M274.74 273.05l17.68 17.68M274.74 290.73l17.68 -17.68M283.65 273.87l17.68 17.68M283.65 291.55l17.68 -17.68M292.57 274.74l17.68 17.68M292.57 292.42l17.68 -17.68M301.48 275.66l17.68 17.68M301.48 293.34l17.68 -17.68M310.4 276.62l17.68 17.68M310.4 294.3l17.68 -17.68M319.31 277.62l17.68 17.68M319.31 295.3l17.68 -17.68M328.23 278.65l17.68 17.68M328.23 296.32l17.68 -17.68M337.14 279.77l17.68 17.68M337.14 297.45l17.68 -17.68M346.06 281.06l17.68 17.68M346.06 298.73l17.68 -17.68M354.97 282.47l17.68 17.68M354.97 300.15l17.68 -17.68M363.89 283.98l17.68 17.68M363.89 301.66l17.68 -17.68M372.8 285.56l17.68 17.68M372.8 303.23l17.68 -17.68M381.72 287.17l17.68 17.68M381.72 304.84l17.68 -17.68M390.63 288.78l17.68 17.68M390.63 306.46l17.68 -17.68M399.55 290.37l17.68 17.68M399.55 308.04l17.68 -17.68M408.46 291.89l17.68 17.68M408.46 309.57l17.68 -17.68M417.38 293.37l17.68 17.68M417.38 311.05l17.68 -17.68M426.29 294.85l17.68 17.68M426.29 312.53l17.68 -17.68M435.21 296.33l17.68 17.68M435.21 314.01l17.68 -17.68M444.12 297.8l17.68 17.68M444.12 315.48l17.68 -17.68M453.04 299.28l17.68 17.68M453.04 316.96l17.68 -17.68M461.95 300.72l17.68 17.68M461.95 318.4l17.68 -17.68M470.87 302.11l17.68 17.68M470.87 319.79l17.68 -17.68M479.78 303.46l17.68 17.68M479.78 321.14l17.68 -17.68M488.7 304.79l17.68 17.68M488.7 322.46l17.68 -17.68M497.61 306.1l17.68 17.68M497.61 323.78l17.68 -17.68M506.53 307.41l17.68 17.68M506.53 325.09l17.68 -17.68M515.44 308.75l17.68 17.68M515.44 326.43l17.68 -17.68M524.36 310.11l17.68 17.68M524.36 327.79l17.68 -17.68M533.27 311.52l17.68 17.68M533.27 329.2l17.68 -17.68M542.19 312.99l17.68 17.68M542.19 330.67l17.68 -17.68M551.1 314.54l17.68 17.68M551.1 332.22l17.68 -17.68M560.02 316.14l17.68 17.68M560.02 333.82l17.68 -17.68M568.93 317.76l17.68 17.68M568.93 335.43l17.68 -17.68M577.85 319.4l17.68 17.68M577.85 337.07l17.68 -17.68M586.76 321.06l17.68 17.68M586.76 338.74l17.68 -17.68M595.68 322.78l17.68 17.68M595.68 340.45l17.68 -17.68M604.59 324.58l17.68 17.68M604.59 342.26l17.68 -17.68M613.51 326.45l17.68 17.68M613.51 344.13l17.68 -17.68M622.42 328.38l17.68 17.68M622.42 346.06l17.68 -17.68M631.34 330.37l17.68 17.68M631.34 348.04l17.68 -17.68M640.25 332.4l17.68 17.68M640.25 350.08l17.68 -17.68M649.17 334.49l17.68 17.68M649.17 352.17l17.68 -17.68M658.08 336.63l17.68 17.68M658.08 354.31l17.68 -17.68M667 338.81l17.68 17.68M667 356.49l17.68 -17.68M675.91 341.04l17.68 17.68M675.91 358.71l17.68 -17.68M684.83 343.3l17.68 17.68M684.83 360.97l17.68 -17.68M693.74 345.58l17.68 17.68M693.74 363.26l17.68 -17.68M702.66 347.88l17.68 17.68M702.66 365.56l17.68 -17.68M711.57 350.19l17.68 17.68M711.57 367.87l17.68 -17.68M720.49 352.52l17.68 17.68M720.49 370.19l17.68 -17.68M729.4 354.85l17.68 17.68M729.4 372.53l17.68 -17.68M738.32 357.2l17.68 17.68M738.32 374.88l17.68 -17.68M747.23 359.56l17.68 17.68M747.23 377.23l17.68 -17.68M756.15 361.92l17.68 17.68M756.15 379.59l17.68 -17.68M765.06 364.27l17.68 17.68M765.06 381.95l17.68 -17.68M773.98 366.64l17.68 17.68M773.98 384.32l17.68 -17.68M782.89 369.04l17.68 17.68M782.89 386.72l17.68 -17.68M791.81 371.46l17.68 17.68M791.81 389.14l17.68 -17.68M800.72 373.89l17.68 17.68M800.72 391.57l17.68 -17.68M809.64 376.33l17.68 17.68M809.64 394l17.68 -17.68M818.55 378.77l17.68 17.68M818.55 396.45l17.68 -17.68M827.47 381.23l17.68 17.68M827.47 398.9l17.68 -17.68M836.38 383.69l17.68 17.68M836.38 401.37l17.68 -17.68M845.3 386.16l17.68 17.68M845.3 403.84l17.68 -17.68M854.21 388.63l17.68 17.68M854.21 406.31l17.68 -17.68M863.13 391.09l17.68 17.68M863.13 408.77l17.68 -17.68M872.04 393.54l17.68 17.68M872.04 411.22l17.68 -17.68M880.96 395.97l17.68 17.68M880.96 413.65l17.68 -17.68M889.87 398.39l17.68 17.68M889.87 416.06l17.68 -17.68M898.79 400.77l17.68 17.68M898.79 418.45l17.68 -17.68M907.7 403.12l17.68 17.68M907.7 420.8l17.68 -17.68M916.62 405.44l17.68 17.68M916.62 423.11l17.68 -17.68M925.53 408.36l17.68 17.68M925.53 426.04l17.68 -17.68M934.45 411.8l17.68 17.68M934.45 429.48l17.68 -17.68M943.36 414.63l17.68 17.68M943.36 432.31l17.68 -17.68M952.28 416.5l17.68 17.68M952.28 434.18l17.68 -17.68M961.19 418.02l17.68 17.68M961.19 435.69l17.68 -17.68M970.11 419.43l17.68 17.68M970.11 437.11l17.68 -17.68M979.02 421l17.68 17.68M979.02 438.68l17.68 -17.68M987.94 422.89l17.68 17.68M987.94 440.57l17.68 -17.68M996.85 424.82l17.68 17.68M996.85 442.5l17.68 -17.68M1005.77 426.76l17.68 17.68M1005.77 444.44l17.68 -17.68M1014.68 429.44l17.68 17.68M1014.68 447.12l17.68 -17.68M1023.6 431.69l17.68 17.68M1023.6 449.37l17.68 -17.68M1032.51 433.88l17.68 17.68M1032.51 451.56l17.68 -17.68M1041.43 436.15l17.68 17.68M1041.43 453.83l17.68 -17.68M1050.34 438.54l17.68 17.68M1050.34 456.22l17.68 -17.68M1059.26 441.01l17.68 17.68M1059.26 458.68l17.68 -17.68M1068.17 443.5l17.68 17.68M1068.17 461.18l17.68 -17.68M1077.09 445.99l17.68 17.68M1077.09 463.66l17.68 -17.68M1086 448.42l17.68 17.68M1086 466.1l17.68 -17.68M1094.92 450.76l17.68 17.68M1094.92 468.44l17.68 -17.68M1103.83 452.89l17.68 17.68M1103.83 470.56l17.68 -17.68M1112.75 454.86l17.68 17.68M1112.75 472.54l17.68 -17.68M1121.66 456.77l17.68 17.68M1121.66 474.44l17.68 -17.68M1130.58 458.67l17.68 17.68M1130.58 476.34l17.68 -17.68M1139.49 460.56l17.68 17.68M1139.49 478.24l17.68 -17.68M1148.41 462.45l17.68 17.68M1148.41 480.13l17.68 -17.68M1157.32 464.33l17.68 17.68M1157.32 482.01l17.68 -17.68M1166.24 466.19l17.68 17.68M1166.24 483.87l17.68 -17.68M1175.15 468.03l17.68 17.68M1175.15 485.71l17.68 -17.68M1184.07 469.85l17.68 17.68M1184.07 487.53l17.68 -17.68M1192.98 471.64l17.68 17.68M1192.98 489.32l17.68 -17.68M1201.9 473.4l17.68 17.68M1201.9 491.08l17.68 -17.68M1210.81 475.12l17.68 17.68M1210.81 492.8l17.68 -17.68M1219.73 476.81l17.68 17.68M1219.73 494.49l17.68 -17.68M1228.64 478.45l17.68 17.68M1228.64 496.13l17.68 -17.68M1237.56 480.05l17.68 17.68M1237.56 497.73l17.68 -17.68M1246.47 481.6l17.68 17.68M1246.47 499.28l17.68 -17.68M1255.39 483.09l17.68 17.68M1255.39 500.77l17.68 -17.68M1264.3 484.53l17.68 17.68M1264.3 502.21l17.68 -17.68M1273.22 485.91l17.68 17.68M1273.22 503.59l17.68 -17.68M1282.13 487.23l17.68 17.68M1282.13 504.91l17.68 -17.68M1291.05 488.48l17.68 17.68M1291.05 506.15l17.68 -17.68M1299.96 489.65l17.68 17.68M1299.96 507.33l17.68 -17.68M1308.88 490.78l17.68 17.68M1308.88 508.46l17.68 -17.68M1317.79 491.9l17.68 17.68M1317.79 509.57l17.68 -17.68M1326.71 492.99l17.68 17.68M1326.71 510.67l17.68 -17.68M1335.62 494.06l17.68 17.68M1335.62 511.74l17.68 -17.68M1344.54 495.08l17.68 17.68M1344.54 512.76l17.68 -17.68M1353.45 496.07l17.68 17.68M1353.45 513.75l17.68 -17.68M1362.37 497.02l17.68 17.68M1362.37 514.69l17.68 -17.68M1371.28 497.93l17.68 17.68M1371.28 515.61l17.68 -17.68M1380.2 498.8l17.68 17.68M1380.2 516.48l17.68 -17.68M1389.11 499.64l17.68 17.68M1389.11 517.32l17.68 -17.68M1398.03 500.45l17.68 17.68M1398.03 518.13l17.68 -17.68M1406.94 501.22l17.68 17.68M1406.94 518.9l17.68 -17.68M1415.86 501.97l17.68 17.68M1415.86 519.64l17.68 -17.68M1424.77 502.68l17.68 17.68M1424.77 520.35l17.68 -17.68M1433.69 503.36l17.68 17.68M1433.69 521.04l17.68 -17.68M1442.6 504l17.68 17.68M1442.6 521.68l17.68 -17.68M1451.52 504.59l17.68 17.68M1451.52 522.27l17.68 -17.68M1460.43 505.13l17.68 17.68M1460.43 522.81l17.68 -17.68M1469.35 505.62l17.68 17.68M1469.35 523.3l17.68 -17.68M1478.26 506.06l17.68 17.68M1478.26 523.74l17.68 -17.68M1487.18 506.48l17.68 17.68M1487.18 524.15l17.68 -17.68M1496.09 506.89l17.68 17.68M1496.09 524.57l17.68 -17.68M1505.01 507.31l17.68 17.68M1505.01 524.99l17.68 -17.68M1513.92 507.73l17.68 17.68M1513.92 525.41l17.68 -17.68M1522.84 508.15l17.68 17.68M1522.84 525.83l17.68 -17.68M1531.75 508.58l17.68 17.68M1531.75 526.25l17.68 -17.68M1540.67 508.98l17.68 17.68M1540.67 526.66l17.68 -17.68M1549.58 509.38l17.68 17.68M1549.58 527.06l17.68 -17.68M1558.5 509.76l17.68 17.68M1558.5 527.43l17.68 -17.68M1567.41 510.12l17.68 17.68M1567.41 527.8l17.68 -17.68M1576.33 510.47l17.68 17.68M1576.33 528.14l17.68 -17.68M1585.24 510.79l17.68 17.68M1585.24 528.47l17.68 -17.68M1594.16 511.1l17.68 17.68M1594.16 528.78l17.68 -17.68M1603.07 511.38l17.68 17.68M1603.07 529.06l17.68 -17.68M1611.99 511.65l17.68 17.68M1611.99 529.33l17.68 -17.68M1620.9 511.89l17.68 17.68M1620.9 529.57l17.68 -17.68M1629.82 512.1l17.68 17.68M1629.82 529.78l17.68 -17.68M1638.73 512.29l17.68 17.68M1638.73 529.97l17.68 -17.68M1647.65 512.46l17.68 17.68M1647.65 530.13l17.68 -17.68M1656.56 512.59l17.68 17.68M1656.56 530.27l17.68 -17.68M1665.48 512.71l17.68 17.68M1665.48 530.39l17.68 -17.68M1674.39 512.83l17.68 17.68M1674.39 530.51l17.68 -17.68M1683.31 512.95l17.68 17.68M1683.31 530.63l17.68 -17.68M1692.22 513.06l17.68 17.68M1692.22 530.74l17.68 -17.68M1701.14 513.18l17.68 17.68M1701.14 530.86l17.68 -17.68M1710.05 513.29l17.68 17.68M1710.05 530.97l17.68 -17.68M1718.97 513.4l17.68 17.68M1718.97 531.07l17.68 -17.68M1727.88 513.5l17.68 17.68M1727.88 531.18l17.68 -17.68M1736.8 513.6l17.68 17.68M1736.8 531.28l17.68 -17.68M1745.71 513.7l17.68 17.68M1745.71 531.37l17.68 -17.68M1754.63 513.79l17.68 17.68M1754.63 531.47l17.68 -17.68M1763.54 513.88l17.68 17.68M1763.54 531.55l17.68 -17.68M1772.46 513.96l17.68 17.68M1772.46 531.64l17.68 -17.68M1781.37 514.04l17.68 17.68M1781.37 531.71l17.68 -17.68M1790.29 514.11l17.68 17.68M1790.29 531.78l17.68 -17.68M1799.2 514.17l17.68 17.68M1799.2 531.85l17.68 -17.68M1808.12 514.23l17.68 17.68M1808.12 531.91l17.68 -17.68M1817.03 514.29l17.68 17.68M1817.03 531.96l17.68 -17.68M1825.95 514.33l17.68 17.68M1825.95 532.01l17.68 -17.68M1834.86 514.37l17.68 17.68M1834.86 532.05l17.68 -17.68M1843.78 514.4l17.68 17.68M1843.78 532.08l17.68 -17.68" fill="none" stroke="#EDB120" stroke-width="2" stroke-linejoin="miter"/>
<polyline points="247.91,256.93 256.83,257.66 265.75,258.47 274.66,259.34 283.57,260.27 292.49,261.26 301.4,262.29 310.32,263.37 319.24,264.49 328.15,265.64 337.06,266.81 345.98,268.06 354.89,269.44 363.81,270.92 372.73,272.47 381.64,274.08 390.55,275.72 399.47,277.37 408.38,279 417.3,280.6 426.21,282.16 435.13,283.71 444.04,285.27 452.96,286.82 461.88,288.38 470.79,289.92 479.7,291.42 488.62,292.9 497.53,294.37 506.45,295.84 515.37,297.33 524.28,298.84 533.19,300.39 542.11,301.99 551.02,303.65 559.94,305.38 568.86,307.18 577.77,309.01 586.68,310.88 595.6,312.79 604.51,314.82 613.43,317.02 622.35,319.33 631.26,321.67 640.17,324.01 649.09,326.37 658,328.77 666.92,331.2 675.84,333.67 684.75,336.16 693.66,338.69 702.58,341.23 711.49,343.77 720.41,346.33 729.32,348.89 738.24,351.46 747.15,354.05 756.07,356.66 764.98,359.28 773.9,361.91 782.81,364.57 791.73,367.26 800.64,369.98 809.56,372.71 818.47,375.46 827.39,378.22 836.3,380.99 845.22,383.78 854.13,386.58 863.05,389.38 871.96,392.18 880.88,394.97 889.79,397.75 898.71,400.51 907.62,403.26 916.54,405.97 925.45,408.66 934.37,411.8 943.28,415.33 952.2,418.38 961.11,420.73 970.03,422.8 978.94,424.8 987.86,426.92 996.77,429.27 1005.69,431.66 1014.6,434.06 1023.52,437.01 1032.43,439.65 1041.35,442.25 1050.26,444.94 1059.18,447.73 1068.09,450.59 1077.01,453.49 1085.92,456.38 1094.84,459.22 1103.75,461.97 1112.67,464.53 1121.59,466.95 1130.5,469.28 1139.41,471.57 1148.33,473.85 1157.24,476.12 1166.16,478.38 1175.07,480.61 1183.99,482.82 1192.9,485 1201.82,487.14 1210.73,489.25 1219.65,491.32 1228.57,493.35 1237.48,495.33 1246.39,497.27 1255.31,499.15 1264.22,500.98 1273.14,502.74 1282.05,504.44 1290.97,506.08 1299.88,507.64 1308.8,509.13 1317.71,510.57 1326.63,511.99 1335.54,513.39 1344.46,514.76 1353.38,516.09 1362.29,517.38 1371.2,518.63 1380.12,519.84 1389.03,521.01 1397.95,522.15 1406.86,523.25 1415.78,524.31 1424.69,525.34 1433.61,526.32 1442.52,527.28 1451.44,528.18 1460.35,529.04 1469.27,529.84 1478.18,530.59 1487.1,531.28 1496.01,531.94 1504.93,532.6 1513.84,533.26 1522.76,533.91 1531.67,534.56 1540.59,535.2 1549.5,535.82 1558.42,536.42 1567.33,537 1576.25,537.57 1585.16,538.11 1594.08,538.62 1602.99,539.11 1611.91,539.58 1620.82,540.01 1629.74,540.42 1638.65,540.8 1647.57,541.14 1656.48,541.45 1665.4,541.73 1674.31,541.98 1683.23,542.24 1692.14,542.49 1701.06,542.74 1709.97,542.98 1718.89,543.21 1727.8,543.44 1736.72,543.66 1745.63,543.88 1754.55,544.08 1763.46,544.28 1772.38,544.47 1781.29,544.64 1790.21,544.81 1799.12,544.96 1808.04,545.1 1816.95,545.23 1825.87,545.35 1834.78,545.44 1843.7,545.53 1852.61,545.59" fill="none" stroke="#7E2F8E" stroke-width="2" stroke-dasharray="16 8.7"/>
<path d="M235.11 256.93h25.6M247.91 244.13v25.6M239.08 248.09l17.68 17.68M239.08 265.77l17.68 -17.68M244.03 257.66h25.6M256.83 244.86v25.6M247.99 248.82l17.68 17.68M247.99 266.5l17.68 -17.68M252.94 258.47h25.6M265.75 245.67v25.6M256.91 249.63l17.68 17.68M256.91 267.31l17.68 -17.68M261.86 259.34h25.6M274.66 246.54v25.6M265.82 250.5l17.68 17.68M265.82 268.18l17.68 -17.68M270.77 260.27h25.6M283.57 247.47v25.6M274.74 251.43l17.68 17.68M274.74 269.11l17.68 -17.68M279.69 261.26h25.6M292.49 248.46v25.6M283.65 252.42l17.68 17.68M283.65 270.1l17.68 -17.68M288.6 262.29h25.6M301.4 249.49v25.6M292.57 253.46l17.68 17.68M292.57 271.13l17.68 -17.68M297.52 263.37h25.6M310.32 250.57v25.6M301.48 254.53l17.68 17.68M301.48 272.21l17.68 -17.68M306.44 264.49h25.6M319.24 251.69v25.6M310.4 255.65l17.68 17.68M310.4 273.33l17.68 -17.68M315.35 265.64h25.6M328.15 252.84v25.6M319.31 256.8l17.68 17.68M319.31 274.47l17.68 -17.68M324.26 266.81h25.6M337.06 254.01v25.6M328.23 257.97l17.68 17.68M328.23 275.65l17.68 -17.68M333.18 268.06h25.6M345.98 255.26v25.6M337.14 259.22l17.68 17.68M337.14 276.9l17.68 -17.68M342.09 269.44h25.6M354.89 256.64v25.6M346.06 260.6l17.68 17.68M346.06 278.28l17.68 -17.68M351.01 270.92h25.6M363.81 258.12v25.6M354.97 262.08l17.68 17.68M354.97 279.76l17.68 -17.68M359.93 272.47h25.6M372.73 259.67v25.6M363.89 263.63l17.68 17.68M363.89 281.31l17.68 -17.68M368.84 274.08h25.6M381.64 261.28v25.6M372.8 265.24l17.68 17.68M372.8 282.92l17.68 -17.68M377.75 275.72h25.6M390.55 262.92v25.6M381.72 266.89l17.68 17.68M381.72 284.56l17.68 -17.68M386.67 277.37h25.6M399.47 264.57v25.6M390.63 268.53l17.68 17.68M390.63 286.21l17.68 -17.68M395.58 279h25.6M408.38 266.2v25.6M399.55 270.17l17.68 17.68M399.55 287.84l17.68 -17.68M404.5 280.6h25.6M417.3 267.8v25.6M408.46 271.76l17.68 17.68M408.46 289.44l17.68 -17.68M413.41 282.16h25.6M426.21 269.36v25.6M417.38 273.32l17.68 17.68M417.38 291l17.68 -17.68M422.33 283.71h25.6M435.13 270.91v25.6M426.29 274.88l17.68 17.68M426.29 292.55l17.68 -17.68M431.24 285.27h25.6M444.04 272.47v25.6M435.21 276.43l17.68 17.68M435.21 294.11l17.68 -17.68M440.16 286.82h25.6M452.96 274.02v25.6M444.12 277.98l17.68 17.68M444.12 295.66l17.68 -17.68M449.07 288.38h25.6M461.88 275.58v25.6M453.04 279.54l17.68 17.68M453.04 297.22l17.68 -17.68M457.99 289.92h25.6M470.79 277.12v25.6M461.95 281.08l17.68 17.68M461.95 298.76l17.68 -17.68M466.9 291.42h25.6M479.7 278.62v25.6M470.87 282.58l17.68 17.68M470.87 300.26l17.68 -17.68M475.82 292.9h25.6M488.62 280.1v25.6M479.78 284.06l17.68 17.68M479.78 301.74l17.68 -17.68M484.73 294.37h25.6M497.53 281.57v25.6M488.7 285.53l17.68 17.68M488.7 303.21l17.68 -17.68M493.65 295.84h25.6M506.45 283.04v25.6M497.61 287.01l17.68 17.68M497.61 304.68l17.68 -17.68M502.56 297.33h25.6M515.37 284.53v25.6M506.53 288.49l17.68 17.68M506.53 306.17l17.68 -17.68M511.48 298.84h25.6M524.28 286.04v25.6M515.44 290l17.68 17.68M515.44 307.68l17.68 -17.68M520.39 300.39h25.6M533.19 287.59v25.6M524.36 291.55l17.68 17.68M524.36 309.23l17.68 -17.68M529.31 301.99h25.6M542.11 289.19v25.6M533.27 293.15l17.68 17.68M533.27 310.83l17.68 -17.68M538.23 303.65h25.6M551.02 290.85v25.6M542.19 294.81l17.68 17.68M542.19 312.49l17.68 -17.68M547.14 305.38h25.6M559.94 292.58v25.6M551.1 296.55l17.68 17.68M551.1 314.22l17.68 -17.68M556.06 307.18h25.6M568.86 294.38v25.6M560.02 298.34l17.68 17.68M560.02 316.02l17.68 -17.68M564.97 309.01h25.6M577.77 296.21v25.6M568.93 300.17l17.68 17.68M568.93 317.85l17.68 -17.68M573.88 310.88h25.6M586.68 298.08v25.6M577.85 302.04l17.68 17.68M577.85 319.72l17.68 -17.68M582.8 312.79h25.6M595.6 299.99v25.6M586.76 303.95l17.68 17.68M586.76 321.63l17.68 -17.68M591.72 314.82h25.6M604.51 302.02v25.6M595.68 305.98l17.68 17.68M595.68 323.66l17.68 -17.68M600.63 317.02h25.6M613.43 304.22v25.6M604.59 308.18l17.68 17.68M604.59 325.86l17.68 -17.68M609.55 319.33h25.6M622.35 306.53v25.6M613.51 310.49l17.68 17.68M613.51 328.16l17.68 -17.68M618.46 321.67h25.6M631.26 308.87v25.6M622.42 312.83l17.68 17.68M622.42 330.51l17.68 -17.68M627.38 324.01h25.6M640.17 311.21v25.6M631.34 315.17l17.68 17.68M631.34 332.85l17.68 -17.68M636.29 326.37h25.6M649.09 313.57v25.6M640.25 317.53l17.68 17.68M640.25 335.21l17.68 -17.68M645.2 328.77h25.6M658 315.97v25.6M649.17 319.93l17.68 17.68M649.17 337.61l17.68 -17.68M654.12 331.2h25.6M666.92 318.4v25.6M658.08 322.36l17.68 17.68M658.08 340.04l17.68 -17.68M663.04 333.67h25.6M675.84 320.87v25.6M667 324.83l17.68 17.68M667 342.51l17.68 -17.68M671.95 336.16h25.6M684.75 323.36v25.6M675.91 327.32l17.68 17.68M675.91 345l17.68 -17.68M680.87 338.69h25.6M693.66 325.89v25.6M684.83 329.85l17.68 17.68M684.83 347.52l17.68 -17.68M689.78 341.23h25.6M702.58 328.43v25.6M693.74 332.39l17.68 17.68M693.74 350.06l17.68 -17.68M698.69 343.77h25.6M711.49 330.97v25.6M702.66 334.93l17.68 17.68M702.66 352.61l17.68 -17.68M707.61 346.33h25.6M720.41 333.53v25.6M711.57 337.49l17.68 17.68M711.57 355.17l17.68 -17.68M716.52 348.89h25.6M729.32 336.09v25.6M720.49 340.05l17.68 17.68M720.49 357.73l17.68 -17.68M725.44 351.46h25.6M738.24 338.66v25.6M729.4 342.62l17.68 17.68M729.4 360.3l17.68 -17.68M734.36 354.05h25.6M747.15 341.25v25.6M738.32 345.21l17.68 17.68M738.32 362.89l17.68 -17.68M743.27 356.66h25.6M756.07 343.86v25.6M747.23 347.82l17.68 17.68M747.23 365.5l17.68 -17.68M752.18 359.28h25.6M764.98 346.48v25.6M756.15 350.44l17.68 17.68M756.15 368.12l17.68 -17.68M761.1 361.91h25.6M773.9 349.11v25.6M765.06 353.08l17.68 17.68M765.06 370.75l17.68 -17.68M770.01 364.57h25.6M782.81 351.77v25.6M773.98 355.73l17.68 17.68M773.98 373.41l17.68 -17.68M778.93 367.26h25.6M791.73 354.46v25.6M782.89 358.42l17.68 17.68M782.89 376.1l17.68 -17.68M787.85 369.98h25.6M800.64 357.18v25.6M791.81 361.14l17.68 17.68M791.81 378.82l17.68 -17.68M796.76 372.71h25.6M809.56 359.91v25.6M800.72 363.87l17.68 17.68M800.72 381.55l17.68 -17.68M805.67 375.46h25.6M818.47 362.66v25.6M809.64 366.62l17.68 17.68M809.64 384.3l17.68 -17.68M814.59 378.22h25.6M827.39 365.42v25.6M818.55 369.38l17.68 17.68M818.55 387.06l17.68 -17.68M823.5 380.99h25.6M836.3 368.19v25.6M827.47 372.15l17.68 17.68M827.47 389.83l17.68 -17.68M832.42 383.78h25.6M845.22 370.98v25.6M836.38 374.94l17.68 17.68M836.38 392.62l17.68 -17.68M841.34 386.58h25.6M854.13 373.78v25.6M845.3 377.74l17.68 17.68M845.3 395.42l17.68 -17.68M850.25 389.38h25.6M863.05 376.58v25.6M854.21 380.54l17.68 17.68M854.21 398.22l17.68 -17.68M859.16 392.18h25.6M871.96 379.38v25.6M863.13 383.34l17.68 17.68M863.13 401.01l17.68 -17.68M868.08 394.97h25.6M880.88 382.17v25.6M872.04 386.13l17.68 17.68M872.04 403.81l17.68 -17.68M877 397.75h25.6M889.79 384.95v25.6M880.96 388.91l17.68 17.68M880.96 406.59l17.68 -17.68M885.91 400.51h25.6M898.71 387.71v25.6M889.87 391.67l17.68 17.68M889.87 409.35l17.68 -17.68M894.82 403.26h25.6M907.62 390.46v25.6M898.79 394.42l17.68 17.68M898.79 412.09l17.68 -17.68M903.74 405.97h25.6M916.54 393.17v25.6M907.7 397.14l17.68 17.68M907.7 414.81l17.68 -17.68M912.65 408.66h25.6M925.45 395.86v25.6M916.62 399.82l17.68 17.68M916.62 417.5l17.68 -17.68M921.57 411.8h25.6M934.37 399v25.6M925.53 402.97l17.68 17.68M925.53 420.64l17.68 -17.68M930.49 415.33h25.6M943.28 402.53v25.6M934.45 406.49l17.68 17.68M934.45 424.16l17.68 -17.68M939.4 418.38h25.6M952.2 405.58v25.6M943.36 409.54l17.68 17.68M943.36 427.22l17.68 -17.68M948.31 420.73h25.6M961.11 407.93v25.6M952.28 411.89l17.68 17.68M952.28 429.57l17.68 -17.68M957.23 422.8h25.6M970.03 410v25.6M961.19 413.96l17.68 17.68M961.19 431.64l17.68 -17.68M966.14 424.8h25.6M978.94 412v25.6M970.11 415.96l17.68 17.68M970.11 433.64l17.68 -17.68M975.06 426.92h25.6M987.86 414.12v25.6M979.02 418.08l17.68 17.68M979.02 435.76l17.68 -17.68M983.98 429.27h25.6M996.77 416.47v25.6M987.94 420.43l17.68 17.68M987.94 438.11l17.68 -17.68M992.89 431.66h25.6M1005.69 418.86v25.6M996.85 422.82l17.68 17.68M996.85 440.5l17.68 -17.68M1001.8 434.06h25.6M1014.6 421.26v25.6M1005.77 425.22l17.68 17.68M1005.77 442.9l17.68 -17.68M1010.72 437.01h25.6M1023.52 424.21v25.6M1014.68 428.17l17.68 17.68M1014.68 445.85l17.68 -17.68M1019.63 439.65h25.6M1032.43 426.85v25.6M1023.6 430.81l17.68 17.68M1023.6 448.49l17.68 -17.68M1028.55 442.25h25.6M1041.35 429.45v25.6M1032.51 433.42l17.68 17.68M1032.51 451.09l17.68 -17.68M1037.46 444.94h25.6M1050.26 432.14v25.6M1041.43 436.1l17.68 17.68M1041.43 453.78l17.68 -17.68M1046.38 447.73h25.6M1059.18 434.93v25.6M1050.34 438.89l17.68 17.68M1050.34 456.57l17.68 -17.68M1055.29 450.59h25.6M1068.09 437.79v25.6M1059.26 441.76l17.68 17.68M1059.26 459.43l17.68 -17.68M1064.21 453.49h25.6M1077.01 440.69v25.6M1068.17 444.65l17.68 17.68M1068.17 462.33l17.68 -17.68M1073.12 456.38h25.6M1085.92 443.58v25.6M1077.09 447.54l17.68 17.68M1077.09 465.22l17.68 -17.68M1082.04 459.22h25.6M1094.84 446.42v25.6M1086 450.38l17.68 17.68M1086 468.06l17.68 -17.68M1090.95 461.97h25.6M1103.75 449.17v25.6M1094.92 453.13l17.68 17.68M1094.92 470.81l17.68 -17.68M1099.87 464.53h25.6M1112.67 451.73v25.6M1103.83 455.69l17.68 17.68M1103.83 473.37l17.68 -17.68M1108.79 466.95h25.6M1121.59 454.15v25.6M1112.75 458.11l17.68 17.68M1112.75 475.79l17.68 -17.68M1117.7 469.28h25.6M1130.5 456.48v25.6M1121.66 460.44l17.68 17.68M1121.66 478.11l17.68 -17.68M1126.62 471.57h25.6M1139.41 458.77v25.6M1130.58 462.73l17.68 17.68M1130.58 480.41l17.68 -17.68M1135.53 473.85h25.6M1148.33 461.05v25.6M1139.49 465.01l17.68 17.68M1139.49 482.69l17.68 -17.68M1144.44 476.12h25.6M1157.24 463.32v25.6M1148.41 467.28l17.68 17.68M1148.41 484.96l17.68 -17.68M1153.36 478.38h25.6M1166.16 465.58v25.6M1157.32 469.54l17.68 17.68M1157.32 487.22l17.68 -17.68M1162.27 480.61h25.6M1175.07 467.81v25.6M1166.24 471.77l17.68 17.68M1166.24 489.45l17.68 -17.68M1171.19 482.82h25.6M1183.99 470.02v25.6M1175.15 473.98l17.68 17.68M1175.15 491.66l17.68 -17.68M1180.1 485h25.6M1192.9 472.2v25.6M1184.07 476.16l17.68 17.68M1184.07 493.83l17.68 -17.68M1189.02 487.14h25.6M1201.82 474.34v25.6M1192.98 478.3l17.68 17.68M1192.98 495.98l17.68 -17.68M1197.93 489.25h25.6M1210.73 476.45v25.6M1201.9 480.41l17.68 17.68M1201.9 498.09l17.68 -17.68M1206.85 491.32h25.6M1219.65 478.52v25.6M1210.81 482.49l17.68 17.68M1210.81 500.16l17.68 -17.68M1215.77 493.35h25.6M1228.57 480.55v25.6M1219.73 484.51l17.68 17.68M1219.73 502.19l17.68 -17.68M1224.68 495.33h25.6M1237.48 482.53v25.6M1228.64 486.5l17.68 17.68M1228.64 504.17l17.68 -17.68M1233.6 497.27h25.6M1246.39 484.47v25.6M1237.56 488.43l17.68 17.68M1237.56 506.11l17.68 -17.68M1242.51 499.15h25.6M1255.31 486.35v25.6M1246.47 490.31l17.68 17.68M1246.47 507.99l17.68 -17.68M1251.42 500.98h25.6M1264.22 488.18v25.6M1255.39 492.14l17.68 17.68M1255.39 509.81l17.68 -17.68M1260.34 502.74h25.6M1273.14 489.94v25.6M1264.3 493.9l17.68 17.68M1264.3 511.58l17.68 -17.68M1269.25 504.44h25.6M1282.05 491.64v25.6M1273.22 495.6l17.68 17.68M1273.22 513.28l17.68 -17.68M1278.17 506.08h25.6M1290.97 493.28v25.6M1282.13 497.24l17.68 17.68M1282.13 514.92l17.68 -17.68M1287.09 507.64h25.6M1299.88 494.84v25.6M1291.05 498.8l17.68 17.68M1291.05 516.48l17.68 -17.68M1296 509.13h25.6M1308.8 496.33v25.6M1299.96 500.29l17.68 17.68M1299.96 517.97l17.68 -17.68M1304.91 510.57h25.6M1317.71 497.77v25.6M1308.88 501.73l17.68 17.68M1308.88 519.41l17.68 -17.68M1313.83 511.99h25.6M1326.63 499.19v25.6M1317.79 503.15l17.68 17.68M1317.79 520.83l17.68 -17.68M1322.74 513.39h25.6M1335.54 500.59v25.6M1326.71 504.55l17.68 17.68M1326.71 522.23l17.68 -17.68M1331.66 514.76h25.6M1344.46 501.96v25.6M1335.62 505.92l17.68 17.68M1335.62 523.6l17.68 -17.68M1340.58 516.09h25.6M1353.38 503.29v25.6M1344.54 507.25l17.68 17.68M1344.54 524.93l17.68 -17.68M1349.49 517.38h25.6M1362.29 504.58v25.6M1353.45 508.54l17.68 17.68M1353.45 526.22l17.68 -17.68M1358.4 518.63h25.6M1371.2 505.83v25.6M1362.37 509.79l17.68 17.68M1362.37 527.47l17.68 -17.68M1367.32 519.84h25.6M1380.12 507.04v25.6M1371.28 511l17.68 17.68M1371.28 528.68l17.68 -17.68M1376.23 521.01h25.6M1389.03 508.21v25.6M1380.2 512.17l17.68 17.68M1380.2 529.85l17.68 -17.68M1385.15 522.15h25.6M1397.95 509.35v25.6M1389.11 513.31l17.68 17.68M1389.11 530.99l17.68 -17.68M1394.06 523.25h25.6M1406.86 510.45v25.6M1398.03 514.41l17.68 17.68M1398.03 532.09l17.68 -17.68M1402.98 524.31h25.6M1415.78 511.51v25.6M1406.94 515.47l17.68 17.68M1406.94 533.15l17.68 -17.68M1411.89 525.34h25.6M1424.69 512.54v25.6M1415.86 516.5l17.68 17.68M1415.86 534.17l17.68 -17.68M1420.81 526.32h25.6M1433.61 513.52v25.6M1424.77 517.49l17.68 17.68M1424.77 535.16l17.68 -17.68M1429.72 527.28h25.6M1442.52 514.48v25.6M1433.69 518.44l17.68 17.68M1433.69 536.11l17.68 -17.68M1438.64 528.18h25.6M1451.44 515.38v25.6M1442.6 519.34l17.68 17.68M1442.6 537.02l17.68 -17.68M1447.55 529.04h25.6M1460.35 516.24v25.6M1451.52 520.2l17.68 17.68M1451.52 537.88l17.68 -17.68M1456.47 529.84h25.6M1469.27 517.04v25.6M1460.43 521l17.68 17.68M1460.43 538.68l17.68 -17.68M1465.38 530.59h25.6M1478.18 517.79v25.6M1469.35 521.75l17.68 17.68M1469.35 539.43l17.68 -17.68M1474.3 531.28h25.6M1487.1 518.48v25.6M1478.26 522.44l17.68 17.68M1478.26 540.12l17.68 -17.68M1483.21 531.94h25.6M1496.01 519.14v25.6M1487.18 523.11l17.68 17.68M1487.18 540.78l17.68 -17.68M1492.13 532.6h25.6M1504.93 519.8v25.6M1496.09 523.76l17.68 17.68M1496.09 541.44l17.68 -17.68M1501.04 533.26h25.6M1513.84 520.46v25.6M1505.01 524.42l17.68 17.68M1505.01 542.1l17.68 -17.68M1509.96 533.91h25.6M1522.76 521.11v25.6M1513.92 525.07l17.68 17.68M1513.92 542.75l17.68 -17.68M1518.88 534.56h25.6M1531.67 521.76v25.6M1522.84 525.72l17.68 17.68M1522.84 543.4l17.68 -17.68M1527.79 535.2h25.6M1540.59 522.4v25.6M1531.75 526.36l17.68 17.68M1531.75 544.04l17.68 -17.68M1536.7 535.82h25.6M1549.5 523.02v25.6M1540.67 526.98l17.68 17.68M1540.67 544.66l17.68 -17.68M1545.62 536.42h25.6M1558.42 523.62v25.6M1549.58 527.58l17.68 17.68M1549.58 545.26l17.68 -17.68M1554.53 537h25.6M1567.33 524.2v25.6M1558.5 528.17l17.68 17.68M1558.5 545.84l17.68 -17.68M1563.45 537.57h25.6M1576.25 524.77v25.6M1567.41 528.73l17.68 17.68M1567.41 546.41l17.68 -17.68M1572.37 538.11h25.6M1585.16 525.31v25.6M1576.33 529.27l17.68 17.68M1576.33 546.94l17.68 -17.68M1581.28 538.62h25.6M1594.08 525.82v25.6M1585.24 529.78l17.68 17.68M1585.24 547.46l17.68 -17.68M1590.19 539.11h25.6M1602.99 526.31v25.6M1594.16 530.27l17.68 17.68M1594.16 547.95l17.68 -17.68M1599.11 539.58h25.6M1611.91 526.78v25.6M1603.07 530.74l17.68 17.68M1603.07 548.42l17.68 -17.68M1608.02 540.01h25.6M1620.82 527.21v25.6M1611.99 531.17l17.68 17.68M1611.99 548.85l17.68 -17.68M1616.94 540.42h25.6M1629.74 527.62v25.6M1620.9 531.58l17.68 17.68M1620.9 549.26l17.68 -17.68M1625.86 540.8h25.6M1638.65 528v25.6M1629.82 531.96l17.68 17.68M1629.82 549.63l17.68 -17.68M1634.77 541.14h25.6M1647.57 528.34v25.6M1638.73 532.3l17.68 17.68M1638.73 549.98l17.68 -17.68M1643.68 541.45h25.6M1656.48 528.65v25.6M1647.65 532.61l17.68 17.68M1647.65 550.29l17.68 -17.68M1652.6 541.73h25.6M1665.4 528.93v25.6M1656.56 532.89l17.68 17.68M1656.56 550.57l17.68 -17.68M1661.51 541.98h25.6M1674.31 529.18v25.6M1665.48 533.15l17.68 17.68M1665.48 550.82l17.68 -17.68M1670.43 542.24h25.6M1683.23 529.44v25.6M1674.39 533.4l17.68 17.68M1674.39 551.08l17.68 -17.68M1679.34 542.49h25.6M1692.14 529.69v25.6M1683.31 533.65l17.68 17.68M1683.31 551.33l17.68 -17.68M1688.26 542.74h25.6M1701.06 529.94v25.6M1692.22 533.9l17.68 17.68M1692.22 551.57l17.68 -17.68M1697.17 542.98h25.6M1709.97 530.18v25.6M1701.14 534.14l17.68 17.68M1701.14 551.82l17.68 -17.68M1706.09 543.21h25.6M1718.89 530.41v25.6M1710.05 534.37l17.68 17.68M1710.05 552.05l17.68 -17.68M1715 543.44h25.6M1727.8 530.64v25.6M1718.97 534.6l17.68 17.68M1718.97 552.28l17.68 -17.68M1723.92 543.66h25.6M1736.72 530.86v25.6M1727.88 534.83l17.68 17.68M1727.88 552.5l17.68 -17.68M1732.83 543.88h25.6M1745.63 531.08v25.6M1736.8 535.04l17.68 17.68M1736.8 552.72l17.68 -17.68M1741.75 544.08h25.6M1754.55 531.28v25.6M1745.71 535.25l17.68 17.68M1745.71 552.92l17.68 -17.68M1750.66 544.28h25.6M1763.46 531.48v25.6M1754.63 535.44l17.68 17.68M1754.63 553.12l17.68 -17.68M1759.58 544.47h25.6M1772.38 531.67v25.6M1763.54 535.63l17.68 17.68M1763.54 553.31l17.68 -17.68M1768.49 544.64h25.6M1781.29 531.84v25.6M1772.46 535.81l17.68 17.68M1772.46 553.48l17.68 -17.68M1777.41 544.81h25.6M1790.21 532.01v25.6M1781.37 535.97l17.68 17.68M1781.37 553.65l17.68 -17.68M1786.32 544.96h25.6M1799.12 532.16v25.6M1790.29 536.12l17.68 17.68M1790.29 553.8l17.68 -17.68M1795.24 545.1h25.6M1808.04 532.3v25.6M1799.2 536.27l17.68 17.68M1799.2 553.94l17.68 -17.68M1804.15 545.23h25.6M1816.95 532.43v25.6M1808.12 536.39l17.68 17.68M1808.12 554.07l17.68 -17.68M1813.07 545.35h25.6M1825.87 532.55v25.6M1817.03 536.51l17.68 17.68M1817.03 554.18l17.68 -17.68M1821.98 545.44h25.6M1834.78 532.64v25.6M1825.95 536.61l17.68 17.68M1825.95 554.28l17.68 -17.68M1830.9 545.53h25.6M1843.7 532.73v25.6M1834.86 536.69l17.68 17.68M1834.86 554.37l17.68 -17.68M1839.81 545.59h25.6M1852.61 532.79v25.6M1843.78 536.76l17.68 17.68M1843.78 554.43l17.68 -17.68" fill="none" stroke="#7E2F8E" stroke-width="2" stroke-linejoin="miter"/>
<polyline points="247.91,229.41 256.83,230.42 265.75,231.48 274.66,232.59 283.57,233.75 292.49,234.95 301.4,236.19 310.32,237.46 319.24,238.76 328.15,240.09 337.06,241.44 345.98,242.85 354.89,244.35 363.81,245.9 372.73,247.52 381.64,249.17 390.55,250.85 399.47,252.54 408.38,254.22 417.3,255.9 426.21,257.56 435.13,259.21 444.04,260.86 452.96,262.51 461.88,264.17 470.79,265.82 479.7,267.47 488.62,269.11 497.53,270.76 506.45,272.42 515.37,274.12 524.28,275.85 533.19,277.62 542.11,279.45 551.02,281.34 559.94,283.31 568.86,285.35 577.77,287.44 586.68,289.59 595.6,291.8 604.51,294.22 613.43,296.91 622.35,299.74 631.26,302.6 640.17,305.38 649.09,308.14 658,310.91 666.92,313.7 675.84,316.51 684.75,319.34 693.66,322.19 702.58,325.04 711.49,327.89 720.41,330.74 729.32,333.6 738.24,336.46 747.15,339.35 756.07,342.27 764.98,345.21 773.9,348.18 782.81,351.19 791.73,354.24 800.64,357.32 809.56,360.43 818.47,363.55 827.39,366.7 836.3,369.87 845.22,373.05 854.13,376.25 863.05,379.45 871.96,382.66 880.88,385.87 889.79,389.08 898.71,392.28 907.62,395.46 916.54,398.63 925.45,401.78 934.37,405.19 943.28,408.8 952.2,412.15 961.11,415.07 970.03,417.83 978.94,420.55 987.86,423.34 996.77,426.26 1005.69,429.21 1014.6,432.17 1023.52,435.46 1032.43,438.58 1041.35,441.68 1050.26,444.87 1059.18,448.16 1068.09,451.52 1077.01,454.9 1085.92,458.28 1094.84,461.62 1103.75,464.87 1112.67,467.98 1121.59,470.94 1130.5,473.78 1139.41,476.55 1148.33,479.31 1157.24,482.05 1166.16,484.76 1175.07,487.45 1183.99,490.11 1192.9,492.73 1201.82,495.31 1210.73,497.86 1219.65,500.35 1228.57,502.8 1237.48,505.2 1246.39,507.55 1255.31,509.84 1264.22,512.07 1273.14,514.23 1282.05,516.33 1290.97,518.36 1299.88,520.31 1308.8,522.18 1317.71,524 1326.63,525.8 1335.54,527.57 1344.46,529.31 1353.38,531.01 1362.29,532.67 1371.2,534.29 1380.12,535.88 1389.03,537.42 1397.95,538.92 1406.86,540.37 1415.78,541.79 1424.69,543.16 1433.61,544.49 1442.52,545.77 1451.44,547.01 1460.35,548.18 1469.27,549.31 1478.18,550.37 1487.1,551.37 1496.01,552.34 1504.93,553.3 1513.84,554.25 1522.76,555.18 1531.67,556.11 1540.59,557.01 1549.5,557.89 1558.42,558.75 1567.33,559.59 1576.25,560.39 1585.16,561.17 1594.08,561.92 1602.99,562.63 1611.91,563.32 1620.82,563.96 1629.74,564.58 1638.65,565.15 1647.57,565.68 1656.48,566.17 1665.4,566.62 1674.31,567.05 1683.23,567.47 1692.14,567.88 1701.06,568.29 1709.97,568.69 1718.89,569.08 1727.8,569.46 1736.72,569.82 1745.63,570.18 1754.55,570.52 1763.46,570.84 1772.38,571.15 1781.29,571.45 1790.21,571.72 1799.12,571.97 1808.04,572.2 1816.95,572.42 1825.87,572.6 1834.78,572.77 1843.7,572.9 1852.61,573.01" fill="none" stroke="#77AC30" stroke-width="2" stroke-dasharray="16 8.7"/>
<path d="M247.91 213.41L261.77 237.41L234.06 237.41ZM256.83 214.42L270.69 238.42L242.97 238.42ZM265.75 215.48L279.6 239.48L251.89 239.48ZM274.66 216.59L288.52 240.59L260.8 240.59ZM283.57 217.75L297.43 241.75L269.72 241.75ZM292.49 218.95L306.35 242.95L278.63 242.95ZM301.4 220.19L315.26 244.19L287.55 244.19ZM310.32 221.46L324.18 245.46L296.46 245.46ZM319.24 222.76L333.09 246.76L305.38 246.76ZM328.15 224.09L342.01 248.09L314.29 248.09ZM337.06 225.44L350.92 249.44L323.21 249.44ZM345.98 226.85L359.84 250.85L332.12 250.85ZM354.89 228.35L368.75 252.35L341.04 252.35ZM363.81 229.9L377.67 253.9L349.95 253.9ZM372.73 231.52L386.58 255.52L358.87 255.52ZM381.64 233.17L395.5 257.17L367.78 257.17ZM390.55 234.85L404.41 258.85L376.7 258.85ZM399.47 236.54L413.33 260.54L385.61 260.54ZM408.38 238.22L422.24 262.22L394.53 262.22ZM417.3 239.9L431.16 263.9L403.44 263.9ZM426.21 241.56L440.07 265.56L412.36 265.56ZM435.13 243.21L448.99 267.21L421.27 267.21ZM444.04 244.86L457.9 268.86L430.19 268.86ZM452.96 246.51L466.82 270.51L439.1 270.51ZM461.88 248.17L475.73 272.17L448.02 272.17ZM470.79 249.82L484.65 273.82L456.93 273.82ZM479.7 251.47L493.56 275.47L465.85 275.47ZM488.62 253.11L502.48 277.11L474.76 277.11ZM497.53 254.76L511.39 278.76L483.68 278.76ZM506.45 256.42L520.31 280.42L492.59 280.42ZM515.37 258.12L529.22 282.12L501.51 282.12ZM524.28 259.85L538.14 283.85L510.42 283.85ZM533.19 261.62L547.05 285.62L519.34 285.62ZM542.11 263.45L555.97 287.45L528.25 287.45ZM551.02 265.34L564.88 289.34L537.17 289.34ZM559.94 267.31L573.8 291.31L546.08 291.31ZM568.86 269.35L582.71 293.35L555 293.35ZM577.77 271.44L591.63 295.44L563.91 295.44ZM586.68 273.59L600.54 297.59L572.83 297.59ZM595.6 275.8L609.46 299.8L581.74 299.8ZM604.51 278.22L618.37 302.22L590.66 302.22ZM613.43 280.91L627.29 304.91L599.57 304.91ZM622.35 283.74L636.2 307.74L608.49 307.74ZM631.26 286.6L645.12 310.6L617.4 310.6ZM640.17 289.38L654.03 313.38L626.32 313.38ZM649.09 292.14L662.95 316.14L635.23 316.14ZM658 294.91L671.86 318.91L644.15 318.91ZM666.92 297.7L680.78 321.7L653.06 321.7ZM675.84 300.51L689.69 324.51L661.98 324.51ZM684.75 303.34L698.61 327.34L670.89 327.34ZM693.66 306.19L707.52 330.19L679.81 330.19ZM702.58 309.04L716.44 333.04L688.72 333.04ZM711.49 311.89L725.35 335.89L697.64 335.89ZM720.41 314.74L734.27 338.74L706.55 338.74ZM729.32 317.6L743.18 341.6L715.47 341.6ZM738.24 320.46L752.1 344.46L724.38 344.46ZM747.15 323.35L761.01 347.35L733.3 347.35ZM756.07 326.27L769.93 350.27L742.21 350.27ZM764.98 329.21L778.84 353.21L751.13 353.21ZM773.9 332.18L787.76 356.18L760.04 356.18ZM782.81 335.19L796.67 359.19L768.96 359.19ZM791.73 338.24L805.59 362.24L777.87 362.24ZM800.64 341.32L814.5 365.32L786.79 365.32ZM809.56 344.43L823.42 368.43L795.7 368.43ZM818.47 347.55L832.33 371.55L804.62 371.55ZM827.39 350.7L841.25 374.7L813.53 374.7ZM836.3 353.87L850.16 377.87L822.45 377.87ZM845.22 357.05L859.08 381.05L831.36 381.05ZM854.13 360.25L867.99 384.25L840.28 384.25ZM863.05 363.45L876.91 387.45L849.19 387.45ZM871.96 366.66L885.82 390.66L858.11 390.66ZM880.88 369.87L894.74 393.87L867.02 393.87ZM889.79 373.08L903.65 397.08L875.94 397.08ZM898.71 376.28L912.57 400.28L884.85 400.28ZM907.62 379.46L921.48 403.46L893.77 403.46ZM916.54 382.63L930.4 406.63L902.68 406.63ZM925.45 385.78L939.31 409.78L911.6 409.78ZM934.37 389.19L948.23 413.19L920.51 413.19ZM943.28 392.8L957.14 416.8L929.43 416.8ZM952.2 396.15L966.06 420.15L938.34 420.15ZM961.11 399.07L974.97 423.07L947.26 423.07ZM970.03 401.83L983.89 425.83L956.17 425.83ZM978.94 404.55L992.8 428.55L965.09 428.55ZM987.86 407.34L1001.72 431.34L974 431.34ZM996.77 410.26L1010.63 434.26L982.92 434.26ZM1005.69 413.21L1019.55 437.21L991.83 437.21ZM1014.6 416.17L1028.46 440.17L1000.75 440.17ZM1023.52 419.46L1037.38 443.46L1009.66 443.46ZM1032.43 422.58L1046.29 446.58L1018.58 446.58ZM1041.35 425.68L1055.21 449.68L1027.49 449.68ZM1050.26 428.87L1064.12 452.87L1036.41 452.87ZM1059.18 432.16L1073.04 456.16L1045.32 456.16ZM1068.09 435.52L1081.95 459.52L1054.24 459.52ZM1077.01 438.9L1090.87 462.9L1063.15 462.9ZM1085.92 442.28L1099.78 466.28L1072.07 466.28ZM1094.84 445.62L1108.7 469.62L1080.98 469.62ZM1103.75 448.87L1117.61 472.87L1089.9 472.87ZM1112.67 451.98L1126.53 475.98L1098.81 475.98ZM1121.59 454.94L1135.44 478.94L1107.73 478.94ZM1130.5 457.78L1144.36 481.78L1116.64 481.78ZM1139.41 460.55L1153.27 484.55L1125.56 484.55ZM1148.33 463.31L1162.19 487.31L1134.47 487.31ZM1157.24 466.05L1171.1 490.05L1143.39 490.05ZM1166.16 468.76L1180.02 492.76L1152.3 492.76ZM1175.07 471.45L1188.93 495.45L1161.22 495.45ZM1183.99 474.11L1197.85 498.11L1170.13 498.11ZM1192.9 476.73L1206.76 500.73L1179.05 500.73ZM1201.82 479.31L1215.68 503.31L1187.96 503.31ZM1210.73 481.86L1224.59 505.86L1196.88 505.86ZM1219.65 484.35L1233.51 508.35L1205.79 508.35ZM1228.57 486.8L1242.42 510.8L1214.71 510.8ZM1237.48 489.2L1251.34 513.2L1223.62 513.2ZM1246.39 491.55L1260.25 515.55L1232.54 515.55ZM1255.31 493.84L1269.17 517.84L1241.45 517.84ZM1264.22 496.07L1278.08 520.07L1250.37 520.07ZM1273.14 498.23L1287 522.23L1259.28 522.23ZM1282.05 500.33L1295.91 524.33L1268.2 524.33ZM1290.97 502.36L1304.83 526.36L1277.11 526.36ZM1299.88 504.31L1313.74 528.31L1286.03 528.31ZM1308.8 506.18L1322.66 530.18L1294.94 530.18ZM1317.71 508L1331.57 532L1303.86 532ZM1326.63 509.8L1340.49 533.8L1312.77 533.8ZM1335.54 511.57L1349.4 535.57L1321.69 535.57ZM1344.46 513.31L1358.32 537.31L1330.6 537.31ZM1353.38 515.01L1367.23 539.01L1339.52 539.01ZM1362.29 516.67L1376.15 540.67L1348.43 540.67ZM1371.2 518.29L1385.06 542.29L1357.35 542.29ZM1380.12 519.88L1393.98 543.88L1366.26 543.88ZM1389.03 521.42L1402.89 545.42L1375.18 545.42ZM1397.95 522.92L1411.81 546.92L1384.09 546.92ZM1406.86 524.37L1420.72 548.37L1393.01 548.37ZM1415.78 525.79L1429.64 549.79L1401.92 549.79ZM1424.69 527.16L1438.55 551.16L1410.84 551.16ZM1433.61 528.49L1447.47 552.49L1419.75 552.49ZM1442.52 529.77L1456.38 553.77L1428.67 553.77ZM1451.44 531.01L1465.3 555.01L1437.58 555.01ZM1460.35 532.18L1474.21 556.18L1446.5 556.18ZM1469.27 533.31L1483.13 557.31L1455.41 557.31ZM1478.18 534.37L1492.04 558.37L1464.33 558.37ZM1487.1 535.37L1500.96 559.37L1473.24 559.37ZM1496.01 536.34L1509.87 560.34L1482.16 560.34ZM1504.93 537.3L1518.79 561.3L1491.07 561.3ZM1513.84 538.25L1527.7 562.25L1499.99 562.25ZM1522.76 539.18L1536.62 563.18L1508.9 563.18ZM1531.67 540.11L1545.53 564.11L1517.82 564.11ZM1540.59 541.01L1554.45 565.01L1526.73 565.01ZM1549.5 541.89L1563.36 565.89L1535.65 565.89ZM1558.42 542.75L1572.28 566.75L1544.56 566.75ZM1567.33 543.59L1581.19 567.59L1553.48 567.59ZM1576.25 544.39L1590.11 568.39L1562.39 568.39ZM1585.16 545.17L1599.02 569.17L1571.31 569.17ZM1594.08 545.92L1607.94 569.92L1580.22 569.92ZM1602.99 546.63L1616.85 570.63L1589.14 570.63ZM1611.91 547.32L1625.77 571.32L1598.05 571.32ZM1620.82 547.96L1634.68 571.96L1606.97 571.96ZM1629.74 548.58L1643.6 572.58L1615.88 572.58ZM1638.65 549.15L1652.51 573.15L1624.8 573.15ZM1647.57 549.68L1661.43 573.68L1633.71 573.68ZM1656.48 550.17L1670.34 574.17L1642.63 574.17ZM1665.4 550.62L1679.26 574.62L1651.54 574.62ZM1674.31 551.05L1688.17 575.05L1660.46 575.05ZM1683.23 551.47L1697.09 575.47L1669.37 575.47ZM1692.14 551.88L1706 575.88L1678.29 575.88ZM1701.06 552.29L1714.92 576.29L1687.2 576.29ZM1709.97 552.69L1723.83 576.69L1696.12 576.69ZM1718.89 553.08L1732.75 577.08L1705.03 577.08ZM1727.8 553.46L1741.66 577.46L1713.95 577.46ZM1736.72 553.82L1750.58 577.82L1722.86 577.82ZM1745.63 554.18L1759.49 578.18L1731.78 578.18ZM1754.55 554.52L1768.41 578.52L1740.69 578.52ZM1763.46 554.84L1777.32 578.84L1749.61 578.84ZM1772.38 555.15L1786.24 579.15L1758.52 579.15ZM1781.29 555.45L1795.15 579.45L1767.44 579.45ZM1790.21 555.72L1804.07 579.72L1776.35 579.72ZM1799.12 555.97L1812.98 579.97L1785.27 579.97ZM1808.04 556.2L1821.9 580.2L1794.18 580.2ZM1816.95 556.42L1830.81 580.42L1803.1 580.42ZM1825.87 556.6L1839.73 580.6L1812.01 580.6ZM1834.78 556.77L1848.64 580.77L1820.93 580.77ZM1843.7 556.9L1857.56 580.9L1829.84 580.9ZM1852.61 557.01L1866.47 581.01L1838.76 581.01Z" fill="none" stroke="#77AC30" stroke-width="2" stroke-linejoin="miter"/>
<polyline points="247.91,191.52 256.83,192.91 265.75,194.33 274.66,195.77 283.57,197.24 292.49,198.73 301.4,200.24 310.32,201.78 319.24,203.34 328.15,204.92 337.06,206.53 345.98,208.15 354.89,209.8 363.81,211.47 372.73,213.16 381.64,214.87 390.55,216.6 399.47,218.34 408.38,220.11 417.3,221.9 426.21,223.69 435.13,225.47 444.04,227.25 452.96,229.04 461.88,230.84 470.79,232.65 479.7,234.49 488.62,236.35 497.53,238.25 506.45,240.18 515.37,242.16 524.28,244.19 533.19,246.28 542.11,248.42 551.02,250.64 559.94,252.92 568.86,255.29 577.77,257.74 586.68,260.28 595.6,262.91 604.51,265.86 613.43,269.22 622.35,272.78 631.26,276.34 640.17,279.72 649.09,283.03 658,286.33 666.92,289.61 675.84,292.9 684.75,296.18 693.66,299.48 702.58,302.76 711.49,306.03 720.41,309.29 729.32,312.55 738.24,315.82 747.15,319.11 756.07,322.45 764.98,325.83 773.9,329.27 782.81,332.77 791.73,336.31 800.64,339.89 809.56,343.51 818.47,347.16 827.39,350.84 836.3,354.55 845.22,358.28 854.13,362.03 863.05,365.79 871.96,369.57 880.88,373.36 889.79,377.15 898.71,380.94 907.62,384.73 916.54,388.52 925.45,392.3 934.37,396.07 943.28,399.83 952.2,403.56 961.11,407.28 970.03,410.99 978.94,414.7 987.86,418.4 996.77,422.11 1005.69,425.83 1014.6,429.57 1023.52,433.32 1032.43,437.1 1041.35,440.9 1050.26,444.78 1059.18,448.75 1068.09,452.78 1077.01,456.84 1085.92,460.9 1094.84,464.92 1103.75,468.87 1112.67,472.72 1121.59,476.44 1130.5,479.98 1139.41,483.42 1148.33,486.83 1157.24,490.21 1166.16,493.56 1175.07,496.87 1183.99,500.14 1192.9,503.37 1201.82,506.56 1210.73,509.7 1219.65,512.78 1228.57,515.82 1237.48,518.79 1246.39,521.7 1255.31,524.55 1264.22,527.34 1273.14,530.05 1282.05,532.69 1290.97,535.26 1299.88,537.74 1308.8,540.15 1317.71,542.5 1326.63,544.81 1335.54,547.1 1344.46,549.34 1353.38,551.56 1362.29,553.73 1371.2,555.86 1380.12,557.95 1389.03,560 1397.95,562 1406.86,563.95 1415.78,565.85 1424.69,567.7 1433.61,569.5 1442.52,571.24 1451.44,572.92 1460.35,574.54 1469.27,576.11 1478.18,577.6 1487.1,579.04 1496.01,580.43 1504.93,581.8 1513.84,583.15 1522.76,584.47 1531.67,585.77 1540.59,587.04 1549.5,588.28 1558.42,589.5 1567.33,590.67 1576.25,591.82 1585.16,592.92 1594.08,593.99 1602.99,595.02 1611.91,596 1620.82,596.94 1629.74,597.83 1638.65,598.68 1647.57,599.47 1656.48,600.21 1665.4,600.9 1674.31,601.55 1683.23,602.2 1692.14,602.84 1701.06,603.47 1709.97,604.09 1718.89,604.69 1727.8,605.27 1736.72,605.84 1745.63,606.39 1754.55,606.91 1763.46,607.41 1772.38,607.89 1781.29,608.34 1790.21,608.76 1799.12,609.15 1808.04,609.51 1816.95,609.84 1825.87,610.13 1834.78,610.38 1843.7,610.59 1852.61,610.76" fill="none" stroke="#4DBEEE" stroke-width="2" stroke-dasharray="16 8.7"/>
<path d="M238.79 182.4h18.25v18.25h-18.25ZM247.7 183.79h18.25v18.25h-18.25ZM256.62 185.2h18.25v18.25h-18.25ZM265.53 186.65h18.25v18.25h-18.25ZM274.45 188.11h18.25v18.25h-18.25ZM283.37 189.6h18.25v18.25h-18.25ZM292.28 191.12h18.25v18.25h-18.25ZM301.19 192.65h18.25v18.25h-18.25ZM310.11 194.21h18.25v18.25h-18.25ZM319.02 195.8h18.25v18.25h-18.25ZM327.94 197.4h18.25v18.25h-18.25ZM336.86 199.03h18.25v18.25h-18.25ZM345.77 200.67h18.25v18.25h-18.25ZM354.69 202.34h18.25v18.25h-18.25ZM363.6 204.03h18.25v18.25h-18.25ZM372.51 205.74h18.25v18.25h-18.25ZM381.43 207.47h18.25v18.25h-18.25ZM390.34 209.22h18.25v18.25h-18.25ZM399.26 210.99h18.25v18.25h-18.25ZM408.17 212.77h18.25v18.25h-18.25ZM417.09 214.56h18.25v18.25h-18.25ZM426 216.34h18.25v18.25h-18.25ZM434.92 218.13h18.25v18.25h-18.25ZM443.83 219.91h18.25v18.25h-18.25ZM452.75 221.71h18.25v18.25h-18.25ZM461.66 223.53h18.25v18.25h-18.25ZM470.58 225.36h18.25v18.25h-18.25ZM479.5 227.22h18.25v18.25h-18.25ZM488.41 229.12h18.25v18.25h-18.25ZM497.32 231.06h18.25v18.25h-18.25ZM506.24 233.03h18.25v18.25h-18.25ZM515.15 235.06h18.25v18.25h-18.25ZM524.07 237.15h18.25v18.25h-18.25ZM532.98 239.3h18.25v18.25h-18.25ZM541.9 241.51h18.25v18.25h-18.25ZM550.81 243.8h18.25v18.25h-18.25ZM559.73 246.16h18.25v18.25h-18.25ZM568.64 248.61h18.25v18.25h-18.25ZM577.56 251.15h18.25v18.25h-18.25ZM586.47 253.79h18.25v18.25h-18.25ZM595.39 256.74h18.25v18.25h-18.25ZM604.3 260.1h18.25v18.25h-18.25ZM613.22 263.66h18.25v18.25h-18.25ZM622.13 267.21h18.25v18.25h-18.25ZM631.05 270.59h18.25v18.25h-18.25ZM639.96 273.91h18.25v18.25h-18.25ZM648.88 277.2h18.25v18.25h-18.25ZM657.79 280.49h18.25v18.25h-18.25ZM666.71 283.77h18.25v18.25h-18.25ZM675.62 287.06h18.25v18.25h-18.25ZM684.54 290.35h18.25v18.25h-18.25ZM693.45 293.64h18.25v18.25h-18.25ZM702.37 296.91h18.25v18.25h-18.25ZM711.28 300.16h18.25v18.25h-18.25ZM720.2 303.42h18.25v18.25h-18.25ZM729.12 306.69h18.25v18.25h-18.25ZM738.03 309.99h18.25v18.25h-18.25ZM746.94 313.32h18.25v18.25h-18.25ZM755.86 316.7h18.25v18.25h-18.25ZM764.77 320.15h18.25v18.25h-18.25ZM773.69 323.64h18.25v18.25h-18.25ZM782.6 327.19h18.25v18.25h-18.25ZM791.52 330.77h18.25v18.25h-18.25ZM800.43 334.39h18.25v18.25h-18.25ZM809.35 338.04h18.25v18.25h-18.25ZM818.26 341.72h18.25v18.25h-18.25ZM827.18 345.42h18.25v18.25h-18.25ZM836.09 349.15h18.25v18.25h-18.25ZM845.01 352.9h18.25v18.25h-18.25ZM853.92 356.67h18.25v18.25h-18.25ZM862.84 360.44h18.25v18.25h-18.25ZM871.75 364.23h18.25v18.25h-18.25ZM880.67 368.02h18.25v18.25h-18.25ZM889.58 371.82h18.25v18.25h-18.25ZM898.5 375.61h18.25v18.25h-18.25ZM907.41 379.4h18.25v18.25h-18.25ZM916.33 383.18h18.25v18.25h-18.25ZM925.24 386.95h18.25v18.25h-18.25ZM934.16 390.7h18.25v18.25h-18.25ZM943.07 394.44h18.25v18.25h-18.25ZM951.99 398.16h18.25v18.25h-18.25ZM960.9 401.87h18.25v18.25h-18.25ZM969.82 405.57h18.25v18.25h-18.25ZM978.73 409.28h18.25v18.25h-18.25ZM987.65 412.99h18.25v18.25h-18.25ZM996.56 416.71h18.25v18.25h-18.25ZM1005.48 420.44h18.25v18.25h-18.25ZM1014.39 424.2h18.25v18.25h-18.25ZM1023.31 427.97h18.25v18.25h-18.25ZM1032.22 431.78h18.25v18.25h-18.25ZM1041.14 435.65h18.25v18.25h-18.25ZM1050.05 439.62h18.25v18.25h-18.25ZM1058.97 443.66h18.25v18.25h-18.25ZM1067.88 447.72h18.25v18.25h-18.25ZM1076.8 451.78h18.25v18.25h-18.25ZM1085.71 455.8h18.25v18.25h-18.25ZM1094.63 459.75h18.25v18.25h-18.25ZM1103.55 463.6h18.25v18.25h-18.25ZM1112.46 467.31h18.25v18.25h-18.25ZM1121.38 470.86h18.25v18.25h-18.25ZM1130.29 474.29h18.25v18.25h-18.25ZM1139.2 477.7h18.25v18.25h-18.25ZM1148.12 481.08h18.25v18.25h-18.25ZM1157.03 484.43h18.25v18.25h-18.25ZM1165.95 487.74h18.25v18.25h-18.25ZM1174.86 491.02h18.25v18.25h-18.25ZM1183.78 494.25h18.25v18.25h-18.25ZM1192.69 497.43h18.25v18.25h-18.25ZM1201.61 500.57h18.25v18.25h-18.25ZM1210.52 503.66h18.25v18.25h-18.25ZM1219.44 506.69h18.25v18.25h-18.25ZM1228.36 509.67h18.25v18.25h-18.25ZM1237.27 512.58h18.25v18.25h-18.25ZM1246.18 515.43h18.25v18.25h-18.25ZM1255.1 518.21h18.25v18.25h-18.25ZM1264.01 520.93h18.25v18.25h-18.25ZM1272.93 523.57h18.25v18.25h-18.25ZM1281.84 526.13h18.25v18.25h-18.25ZM1290.76 528.62h18.25v18.25h-18.25ZM1299.67 531.02h18.25v18.25h-18.25ZM1308.59 533.37h18.25v18.25h-18.25ZM1317.5 535.69h18.25v18.25h-18.25ZM1326.42 537.97h18.25v18.25h-18.25ZM1335.33 540.22h18.25v18.25h-18.25ZM1344.25 542.43h18.25v18.25h-18.25ZM1353.16 544.6h18.25v18.25h-18.25ZM1362.08 546.74h18.25v18.25h-18.25ZM1370.99 548.83h18.25v18.25h-18.25ZM1379.91 550.87h18.25v18.25h-18.25ZM1388.82 552.87h18.25v18.25h-18.25ZM1397.74 554.83h18.25v18.25h-18.25ZM1406.65 556.73h18.25v18.25h-18.25ZM1415.57 558.58h18.25v18.25h-18.25ZM1424.48 560.37h18.25v18.25h-18.25ZM1433.4 562.11h18.25v18.25h-18.25ZM1442.31 563.8h18.25v18.25h-18.25ZM1451.23 565.42h18.25v18.25h-18.25ZM1460.14 566.98h18.25v18.25h-18.25ZM1469.06 568.48h18.25v18.25h-18.25ZM1477.97 569.91h18.25v18.25h-18.25ZM1486.89 571.3h18.25v18.25h-18.25ZM1495.8 572.67h18.25v18.25h-18.25ZM1504.72 574.02h18.25v18.25h-18.25ZM1513.63 575.35h18.25v18.25h-18.25ZM1522.55 576.64h18.25v18.25h-18.25ZM1531.46 577.92h18.25v18.25h-18.25ZM1540.38 579.16h18.25v18.25h-18.25ZM1549.29 580.37h18.25v18.25h-18.25ZM1558.21 581.55h18.25v18.25h-18.25ZM1567.12 582.69h18.25v18.25h-18.25ZM1576.04 583.8h18.25v18.25h-18.25ZM1584.95 584.87h18.25v18.25h-18.25ZM1593.87 585.89h18.25v18.25h-18.25ZM1602.78 586.88h18.25v18.25h-18.25ZM1611.7 587.81h18.25v18.25h-18.25ZM1620.61 588.71h18.25v18.25h-18.25ZM1629.53 589.55h18.25v18.25h-18.25ZM1638.44 590.34h18.25v18.25h-18.25ZM1647.36 591.09h18.25v18.25h-18.25ZM1656.27 591.77h18.25v18.25h-18.25ZM1665.19 592.43h18.25v18.25h-18.25ZM1674.1 593.08h18.25v18.25h-18.25ZM1683.02 593.72h18.25v18.25h-18.25ZM1691.93 594.35h18.25v18.25h-18.25ZM1700.85 594.96h18.25v18.25h-18.25ZM1709.76 595.56h18.25v18.25h-18.25ZM1718.68 596.15h18.25v18.25h-18.25ZM1727.59 596.71h18.25v18.25h-18.25ZM1736.51 597.26h18.25v18.25h-18.25ZM1745.42 597.79h18.25v18.25h-18.25ZM1754.34 598.29h18.25v18.25h-18.25ZM1763.25 598.77h18.25v18.25h-18.25ZM1772.17 599.22h18.25v18.25h-18.25ZM1781.08 599.64h18.25v18.25h-18.25ZM1790 600.03h18.25v18.25h-18.25ZM1798.91 600.39h18.25v18.25h-18.25ZM1807.83 600.71h18.25v18.25h-18.25ZM1816.74 601h18.25v18.25h-18.25ZM1825.66 601.25h18.25v18.25h-18.25ZM1834.57 601.47h18.25v18.25h-18.25ZM1843.49 601.64h18.25v18.25h-18.25Z" fill="none" stroke="#4DBEEE" stroke-width="2" stroke-linejoin="miter"/>
<text x="239" y="698.4" font-size="50" fill="#262626" text-anchor="middle">0</text>
<text x="417.3" y="698.4" font-size="50" fill="#262626" text-anchor="middle">20</text>
<text x="595.6" y="698.4" font-size="50" fill="#262626" text-anchor="middle">40</text>
<text x="773.9" y="698.4" font-size="50" fill="#262626" text-anchor="middle">60</text>
<text x="952.2" y="698.4" font-size="50" fill="#262626" text-anchor="middle">80</text>
<text x="1130.5" y="698.4" font-size="50" fill="#262626" text-anchor="middle">100</text>
<text x="1308.8" y="698.4" font-size="50" fill="#262626" text-anchor="middle">120</text>
<text x="1487.1" y="698.4" font-size="50" fill="#262626" text-anchor="middle">140</text>
<text x="1665.4" y="698.4" font-size="50" fill="#262626" text-anchor="middle">160</text>
<text x="1843.7" y="698.4" font-size="50" fill="#262626" text-anchor="middle">180</text>
<text x="2022" y="698.4" font-size="50" fill="#262626" text-anchor="middle">200</text>
<text x="176.7" y="650.9" font-size="50" fill="#262626" text-anchor="end">-150</text>
<text x="176.7" y="554.17" font-size="50" fill="#262626" text-anchor="end">-100</text>
<text x="176.7" y="457.43" font-size="50" fill="#262626" text-anchor="end">-50</text>
<text x="176.7" y="360.7" font-size="50" fill="#262626" text-anchor="end">0</text>
<text x="176.7" y="263.97" font-size="50" fill="#262626" text-anchor="end">50</text>
<text x="176.7" y="167.23" font-size="50" fill="#262626" text-anchor="end">100</text>
<text x="176.7" y="70.5" font-size="50" fill="#262626" text-anchor="end">150</text>
<text x="920.8" y="763" font-size="55" fill="#262626" textLength="367.4" lengthAdjust="spacing">Visibility time(s)</text>
<text x="1107" y="828" font-size="55" fill="#262626" text-anchor="middle">(a)</text>
<text transform="translate(62 622.7) rotate(-90)" font-size="55" fill="#262626" textLength="557.9" lengthAdjust="spacing">Frequency shift error(Hz)</text>
<rect x="1670" y="85.7" width="319.7" height="325.1" fill="#fff" stroke="#262626" stroke-width="2"/>
<path d="M1682.2 117.2H1797" stroke="#0072BD" stroke-width="2" stroke-dasharray="15.8 8.9" fill="none"/>
<path d="M1731.5 117.2a12.5 12.5 0 1 0 25 0a12.5 12.5 0 1 0 -25 0" fill="none" stroke="#0072BD" stroke-width="2"/>
<text x="1815" y="134.3" font-size="45" fill="#000" textLength="139.2" lengthAdjust="spacing">beta=0°</text>
<path d="M1682.2 169.65H1797" stroke="#D95319" stroke-width="2" stroke-dasharray="15.8 8.9" fill="none"/>
<path d="M1731.2 169.65h25.6M1744 156.85v25.6" fill="none" stroke="#D95319" stroke-width="2"/>
<text x="1815" y="186.75" font-size="45" fill="#000" textLength="161.7" lengthAdjust="spacing">beta=10°</text>
<path d="M1682.2 222.1H1797" stroke="#EDB120" stroke-width="2" stroke-dasharray="15.8 8.9" fill="none"/>
<path d="M1735.16 213.26l17.68 17.68M1735.16 230.94l17.68 -17.68" fill="none" stroke="#EDB120" stroke-width="2"/>
<text x="1815" y="239.2" font-size="45" fill="#000" textLength="161.7" lengthAdjust="spacing">beta=20°</text>
<path d="M1682.2 274.55H1797" stroke="#7E2F8E" stroke-width="2" stroke-dasharray="15.8 8.9" fill="none"/>
<path d="M1731.2 274.55h25.6M1744 261.75v25.6M1735.16 265.71l17.68 17.68M1735.16 283.39l17.68 -17.68" fill="none" stroke="#7E2F8E" stroke-width="2"/>
<text x="1815" y="291.65" font-size="45" fill="#000" textLength="161.7" lengthAdjust="spacing">beta=30°</text>
<path d="M1682.2 327H1797" stroke="#77AC30" stroke-width="2" stroke-dasharray="15.8 8.9" fill="none"/>
<path d="M1744 311L1757.86 335L1730.14 335Z" fill="none" stroke="#77AC30" stroke-width="2"/>
<text x="1815" y="344.1" font-size="45" fill="#000" textLength="161.7" lengthAdjust="spacing">beta=40°</text>
<path d="M1682.2 379.45H1797" stroke="#4DBEEE" stroke-width="2" stroke-dasharray="15.8 8.9" fill="none"/>
<path d="M1734.88 370.32h18.25v18.25h-18.25Z" fill="none" stroke="#4DBEEE" stroke-width="2"/>
<text x="1815" y="396.55" font-size="45" fill="#000" textLength="161.7" lengthAdjust="spacing">beta=53°</text>
<path d="M316.33 925.4V1507.3M560 925.4V1507.3M803.67 925.4V1507.3M1047.33 925.4V1507.3M1291 925.4V1507.3M1534.67 925.4V1507.3M1778.33 925.4V1507.3M194.5 1390.92H2022M194.5 1274.54H2022M194.5 1158.16H2022M194.5 1041.78H2022" stroke="#dfdfdf" stroke-width="2" fill="none"/>
<path d="M316.33 925.4V1507.3M560 925.4V1507.3M803.67 925.4V1507.3M1047.33 925.4V1507.3M1291 925.4V1507.3M1534.67 925.4V1507.3M1778.33 925.4V1507.3M194.5 1390.92H2022M194.5 1274.54H2022M194.5 1158.16H2022M194.5 1041.78H2022" stroke="#cecece" stroke-width="2" stroke-dasharray="1 3" fill="none"/>
<path d="M316.33 1507.3v-18.3M316.33 925.4v18.3M560 1507.3v-18.3M560 925.4v18.3M803.67 1507.3v-18.3M803.67 925.4v18.3M1047.33 1507.3v-18.3M1047.33 925.4v18.3M1291 1507.3v-18.3M1291 925.4v18.3M1534.67 1507.3v-18.3M1534.67 925.4v18.3M1778.33 1507.3v-18.3M1778.33 925.4v18.3M2022 1507.3v-18.3M2022 925.4v18.3M194.5 1507.3h18.3M2022 1507.3h-18.3M194.5 1390.92h18.3M2022 1390.92h-18.3M194.5 1274.54h18.3M2022 1274.54h-18.3M194.5 1158.16h18.3M2022 1158.16h-18.3M194.5 1041.78h18.3M2022 1041.78h-18.3M194.5 925.4h18.3M2022 925.4h-18.3" stroke="#262626" stroke-width="2" fill="none"/>
<rect x="194.5" y="925.4" width="1827.5" height="581.9" stroke="#262626" stroke-width="2" fill="none"/>
<path d="M299.68 1176.2a16.65 16.65 0 1 0 33.3 0a16.65 16.65 0 1 0 -33.3 0" fill="none" stroke="#0072BD" stroke-width="4.2"/>
<path d="M543.05 1169.8h33.9M560 1152.85v33.9" fill="none" stroke="#D95319" stroke-width="4.2"/>
<path d="M791.89 1136.49l23.55 23.55M791.89 1160.04l23.55 -23.55" fill="none" stroke="#EDB120" stroke-width="4.2"/>
<path d="M1030.38 1114.52h33.9M1047.33 1097.57v33.9M1035.56 1102.74l23.55 23.55M1035.56 1126.29l23.55 -23.55" fill="none" stroke="#7E2F8E" stroke-width="4.2"/>
<path d="M1291 1047.24L1309.46 1079.2L1272.54 1079.2Z" fill="none" stroke="#77AC30" stroke-width="4.2"/>
<path d="M1522.51 990.64h24.31v24.31h-24.31Z" fill="none" stroke="#4DBEEE" stroke-width="4.2"/>
<text x="316.33" y="1572.3" font-size="50" fill="#262626" text-anchor="middle">0</text>
<text x="560" y="1572.3" font-size="50" fill="#262626" text-anchor="middle">10</text>
<text x="803.67" y="1572.3" font-size="50" fill="#262626" text-anchor="middle">20</text>
<text x="1047.33" y="1572.3" font-size="50" fill="#262626" text-anchor="middle">30</text>
<text x="1291" y="1572.3" font-size="50" fill="#262626" text-anchor="middle">40</text>
<text x="1534.67" y="1572.3" font-size="50" fill="#262626" text-anchor="middle">50</text>
<text x="1778.33" y="1572.3" font-size="50" fill="#262626" text-anchor="middle">60</text>
<text x="2022" y="1572.3" font-size="50" fill="#262626" text-anchor="middle">70</text>
<text x="176.7" y="1524.8" font-size="50" fill="#262626" text-anchor="end">0</text>
<text x="176.7" y="1408.42" font-size="50" fill="#262626" text-anchor="end">20</text>
<text x="176.7" y="1292.04" font-size="50" fill="#262626" text-anchor="end">40</text>
<text x="176.7" y="1175.66" font-size="50" fill="#262626" text-anchor="end">60</text>
<text x="176.7" y="1059.28" font-size="50" fill="#262626" text-anchor="end">80</text>
<text x="176.7" y="942.9" font-size="50" fill="#262626" text-anchor="end">100</text>
<text x="1107" y="1637" font-size="55" fill="#262626" text-anchor="middle">beta(°)</text>
<text x="1107" y="1701" font-size="55" fill="#262626" text-anchor="middle">(b)</text>
<text transform="translate(78.9 1547.7) rotate(-90)" font-size="55" fill="#262626" textLength="662.8" lengthAdjust="spacing">Root Mean Squared Error(Hz)</text>
<rect x="1670" y="957.8" width="320" height="325.7" fill="#fff" stroke="#262626" stroke-width="2"/>
<path d="M1682.5 989.3H1793.4" stroke="#0072BD" stroke-width="4.2" stroke-dasharray="12.4 12.4" fill="none"/>
<path d="M1727.35 989.3a16.65 16.65 0 1 0 33.3 0a16.65 16.65 0 1 0 -33.3 0" fill="none" stroke="#0072BD" stroke-width="4.2"/>
<text x="1815" y="1006.4" font-size="45" fill="#000" textLength="139.2" lengthAdjust="spacing">beta=0°</text>
<path d="M1682.5 1041.75H1793.4" stroke="#D95319" stroke-width="4.2" stroke-dasharray="12.4 12.4" fill="none"/>
<path d="M1727.05 1041.75h33.9M1744 1024.8v33.9" fill="none" stroke="#D95319" stroke-width="4.2"/>
<text x="1815" y="1058.85" font-size="45" fill="#000" textLength="161.7" lengthAdjust="spacing">beta=10°</text>
<path d="M1682.5 1094.2H1793.4" stroke="#EDB120" stroke-width="4.2" stroke-dasharray="12.4 12.4" fill="none"/>
<path d="M1732.23 1082.43l23.55 23.55M1732.23 1105.97l23.55 -23.55" fill="none" stroke="#EDB120" stroke-width="4.2"/>
<text x="1815" y="1111.3" font-size="45" fill="#000" textLength="161.7" lengthAdjust="spacing">beta=20°</text>
<path d="M1682.5 1146.65H1793.4" stroke="#7E2F8E" stroke-width="4.2" stroke-dasharray="12.4 12.4" fill="none"/>
<path d="M1727.05 1146.65h33.9M1744 1129.7v33.9M1732.23 1134.88l23.55 23.55M1732.23 1158.42l23.55 -23.55" fill="none" stroke="#7E2F8E" stroke-width="4.2"/>
<text x="1815" y="1163.75" font-size="45" fill="#000" textLength="161.7" lengthAdjust="spacing">beta=30°</text>
<path d="M1682.5 1199.1H1793.4" stroke="#77AC30" stroke-width="4.2" stroke-dasharray="12.4 12.4" fill="none"/>
<path d="M1744 1177.79L1762.46 1209.76L1725.54 1209.76Z" fill="none" stroke="#77AC30" stroke-width="4.2"/>
<text x="1815" y="1216.2" font-size="45" fill="#000" textLength="161.7" lengthAdjust="spacing">beta=40°</text>
<path d="M1682.5 1251.55H1793.4" stroke="#4DBEEE" stroke-width="4.2" stroke-dasharray="12.4 12.4" fill="none"/>
<path d="M1731.85 1239.4h24.31v24.31h-24.31Z" fill="none" stroke="#4DBEEE" stroke-width="4.2"/>
<text x="1815" y="1268.65" font-size="45" fill="#000" textLength="161.7" lengthAdjust="spacing">beta=50°</text>
</svg></body></html>
